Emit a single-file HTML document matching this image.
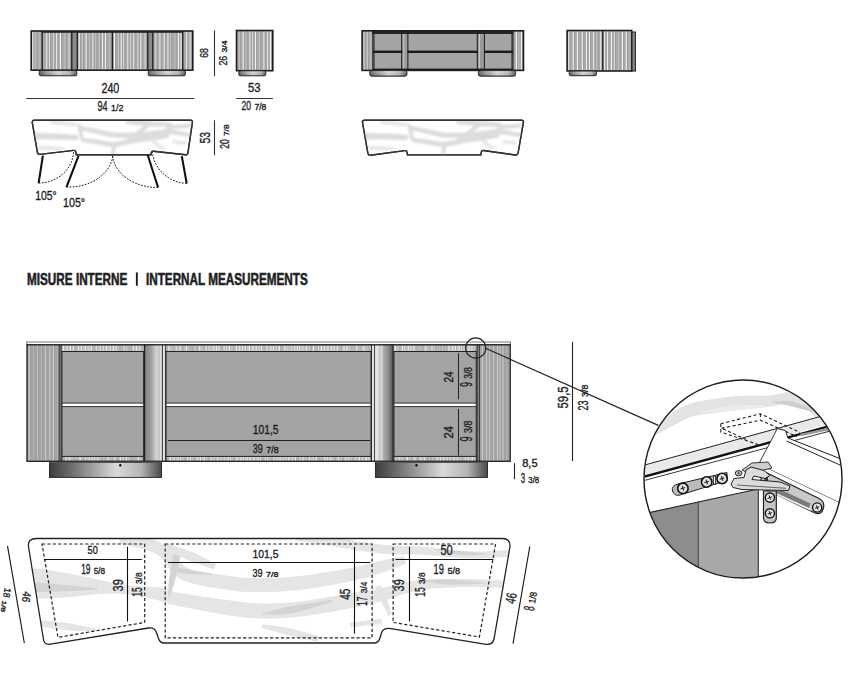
<!DOCTYPE html><html><head><meta charset="utf-8"><style>html,body{margin:0;padding:0;background:#fff;}svg{display:block;}text{font-family:"Liberation Sans",sans-serif;fill:#1e1e1e;stroke:#1e1e1e;stroke-width:0.35px;}</style></head><body>
<svg width="857" height="699" viewBox="0 0 857 699">
<defs>
<linearGradient id="footS" x1="0" y1="0" x2="1" y2="0">
 <stop offset="0" stop-color="#5a5a5a"/><stop offset="0.15" stop-color="#8c8c8c"/><stop offset="0.5" stop-color="#d8d8d8"/><stop offset="0.8" stop-color="#bababa"/><stop offset="1" stop-color="#5e5e5e"/>
</linearGradient>
<linearGradient id="footV" x1="0" y1="0" x2="0" y2="1">
 <stop offset="0" stop-color="#000" stop-opacity="0.1"/><stop offset="0.3" stop-color="#fff" stop-opacity="0.15"/><stop offset="0.7" stop-color="#000" stop-opacity="0"/><stop offset="1" stop-color="#000" stop-opacity="0.35"/>
</linearGradient>
<linearGradient id="footB" x1="0" y1="0" x2="1" y2="0">
 <stop offset="0" stop-color="#3c3c3c"/><stop offset="0.25" stop-color="#7c7c7c"/><stop offset="0.6" stop-color="#dadada"/><stop offset="0.82" stop-color="#b4b4b4"/><stop offset="1" stop-color="#484848"/>
</linearGradient>
<linearGradient id="post" x1="0" y1="0" x2="1" y2="0">
 <stop offset="0" stop-color="#5a5a5a"/><stop offset="0.12" stop-color="#8a8a8a"/><stop offset="0.35" stop-color="#9c9c9c"/><stop offset="0.55" stop-color="#c0c0c0"/><stop offset="0.7" stop-color="#d8d8d8"/><stop offset="0.8" stop-color="#bcbcbc"/><stop offset="0.9" stop-color="#e6e6e6"/><stop offset="1" stop-color="#cfcfcf"/>
</linearGradient>
<linearGradient id="postM" x1="1" y1="0" x2="0" y2="0">
 <stop offset="0" stop-color="#4a4a4a"/><stop offset="0.15" stop-color="#777"/><stop offset="0.35" stop-color="#9c9c9c"/><stop offset="0.5" stop-color="#a8a8a8"/><stop offset="0.6" stop-color="#dadada"/><stop offset="0.72" stop-color="#c4c4c4"/><stop offset="0.85" stop-color="#eaeaea"/><stop offset="1" stop-color="#d6d6d6"/>
</linearGradient>
<filter id="blur1" x="-10%" y="-10%" width="120%" height="120%"><feGaussianBlur stdDeviation="1.2"/></filter>
<filter id="blur3" x="-10%" y="-30%" width="120%" height="160%"><feGaussianBlur stdDeviation="0.9"/></filter>
<filter id="blur2" x="-10%" y="-10%" width="120%" height="120%"><feGaussianBlur stdDeviation="0.6"/></filter>
<clipPath id="circClip"><circle cx="743" cy="479" r="98.5"/></clipPath>
</defs>
<rect x="31" y="31" width="162" height="39.5" fill="#999"/>
<rect x="31.5" y="32" width="10.5" height="38" fill="#a9a9a9"/>
<rect x="32.40" y="32" width="1.1" height="38" fill="#f6f6f6"/>
<rect x="33.50" y="32" width="0.8" height="38" fill="#8c8c8c" opacity="0.6"/>
<rect x="35.39" y="32" width="1.1" height="38" fill="#c8c8c8"/>
<rect x="36.49" y="32" width="0.8" height="38" fill="#8c8c8c" opacity="0.6"/>
<rect x="39.44" y="32" width="1.1" height="38" fill="#c8c8c8"/>
<rect x="40.54" y="32" width="0.8" height="38" fill="#8c8c8c" opacity="0.6"/>
<rect x="43" y="32.5" width="28.5" height="37.5" fill="#a9a9a9"/>
<rect x="46.37" y="32.5" width="1.1" height="37.5" fill="#f6f6f6"/>
<rect x="47.47" y="32.5" width="0.8" height="37.5" fill="#8c8c8c" opacity="0.6"/>
<rect x="49.01" y="32.5" width="1.1" height="37.5" fill="#e2e2e2"/>
<rect x="50.11" y="32.5" width="0.8" height="37.5" fill="#8c8c8c" opacity="0.6"/>
<rect x="53.21" y="32.5" width="1.1" height="37.5" fill="#e2e2e2"/>
<rect x="54.31" y="32.5" width="0.8" height="37.5" fill="#8c8c8c" opacity="0.6"/>
<rect x="56.19" y="32.5" width="1.1" height="37.5" fill="#f6f6f6"/>
<rect x="57.29" y="32.5" width="0.8" height="37.5" fill="#8c8c8c" opacity="0.6"/>
<rect x="59.92" y="32.5" width="1.1" height="37.5" fill="#f6f6f6"/>
<rect x="61.02" y="32.5" width="0.8" height="37.5" fill="#8c8c8c" opacity="0.6"/>
<rect x="64.47" y="32.5" width="1.1" height="37.5" fill="#c8c8c8"/>
<rect x="65.57" y="32.5" width="0.8" height="37.5" fill="#8c8c8c" opacity="0.6"/>
<rect x="68.60" y="32.5" width="1.1" height="37.5" fill="#e2e2e2"/>
<rect x="69.70" y="32.5" width="0.8" height="37.5" fill="#8c8c8c" opacity="0.6"/>
<rect x="71.5" y="32" width="5.5" height="38" fill="#8a8a8a"/>
<rect x="77.5" y="33" width="34.5" height="37" fill="#a9a9a9"/>
<rect x="78.71" y="33" width="1.1" height="37" fill="#f6f6f6"/>
<rect x="79.81" y="33" width="0.8" height="37" fill="#8c8c8c" opacity="0.6"/>
<rect x="81.94" y="33" width="1.1" height="37" fill="#c8c8c8"/>
<rect x="83.04" y="33" width="0.8" height="37" fill="#8c8c8c" opacity="0.6"/>
<rect x="85.70" y="33" width="1.1" height="37" fill="#f6f6f6"/>
<rect x="86.80" y="33" width="0.8" height="37" fill="#8c8c8c" opacity="0.6"/>
<rect x="89.43" y="33" width="1.1" height="37" fill="#c8c8c8"/>
<rect x="90.53" y="33" width="0.8" height="37" fill="#8c8c8c" opacity="0.6"/>
<rect x="92.42" y="33" width="1.1" height="37" fill="#f6f6f6"/>
<rect x="93.52" y="33" width="0.8" height="37" fill="#8c8c8c" opacity="0.6"/>
<rect x="95.27" y="33" width="1.1" height="37" fill="#c8c8c8"/>
<rect x="96.37" y="33" width="0.8" height="37" fill="#8c8c8c" opacity="0.6"/>
<rect x="98.86" y="33" width="1.1" height="37" fill="#c8c8c8"/>
<rect x="99.96" y="33" width="0.8" height="37" fill="#8c8c8c" opacity="0.6"/>
<rect x="102.14" y="33" width="1.1" height="37" fill="#f6f6f6"/>
<rect x="103.24" y="33" width="0.8" height="37" fill="#8c8c8c" opacity="0.6"/>
<rect x="105.08" y="33" width="1.1" height="37" fill="#f6f6f6"/>
<rect x="106.18" y="33" width="0.8" height="37" fill="#8c8c8c" opacity="0.6"/>
<rect x="109.35" y="33" width="1.1" height="37" fill="#c8c8c8"/>
<rect x="110.45" y="33" width="0.8" height="37" fill="#8c8c8c" opacity="0.6"/>
<rect x="112.8" y="33" width="34.7" height="37" fill="#a9a9a9"/>
<rect x="114.01" y="33" width="1.1" height="37" fill="#f6f6f6"/>
<rect x="115.11" y="33" width="0.8" height="37" fill="#8c8c8c" opacity="0.6"/>
<rect x="117.97" y="33" width="1.1" height="37" fill="#c8c8c8"/>
<rect x="119.07" y="33" width="0.8" height="37" fill="#8c8c8c" opacity="0.6"/>
<rect x="120.75" y="33" width="1.1" height="37" fill="#f6f6f6"/>
<rect x="121.85" y="33" width="0.8" height="37" fill="#8c8c8c" opacity="0.6"/>
<rect x="123.24" y="33" width="1.1" height="37" fill="#e2e2e2"/>
<rect x="124.34" y="33" width="0.8" height="37" fill="#8c8c8c" opacity="0.6"/>
<rect x="127.37" y="33" width="1.1" height="37" fill="#f6f6f6"/>
<rect x="128.47" y="33" width="0.8" height="37" fill="#8c8c8c" opacity="0.6"/>
<rect x="130.29" y="33" width="1.1" height="37" fill="#e2e2e2"/>
<rect x="131.39" y="33" width="0.8" height="37" fill="#8c8c8c" opacity="0.6"/>
<rect x="133.32" y="33" width="1.1" height="37" fill="#f6f6f6"/>
<rect x="134.42" y="33" width="0.8" height="37" fill="#8c8c8c" opacity="0.6"/>
<rect x="137.50" y="33" width="1.1" height="37" fill="#e2e2e2"/>
<rect x="138.60" y="33" width="0.8" height="37" fill="#8c8c8c" opacity="0.6"/>
<rect x="140.40" y="33" width="1.1" height="37" fill="#f6f6f6"/>
<rect x="141.50" y="33" width="0.8" height="37" fill="#8c8c8c" opacity="0.6"/>
<rect x="144.60" y="33" width="1.1" height="37" fill="#e2e2e2"/>
<rect x="145.70" y="33" width="0.8" height="37" fill="#8c8c8c" opacity="0.6"/>
<rect x="148" y="32" width="5" height="38" fill="#8a8a8a"/>
<rect x="153" y="32.5" width="29.5" height="37.5" fill="#a9a9a9"/>
<rect x="155.37" y="32.5" width="1.1" height="37.5" fill="#e2e2e2"/>
<rect x="156.47" y="32.5" width="0.8" height="37.5" fill="#8c8c8c" opacity="0.6"/>
<rect x="159.49" y="32.5" width="1.1" height="37.5" fill="#f6f6f6"/>
<rect x="160.59" y="32.5" width="0.8" height="37.5" fill="#8c8c8c" opacity="0.6"/>
<rect x="163.70" y="32.5" width="1.1" height="37.5" fill="#f6f6f6"/>
<rect x="164.80" y="32.5" width="0.8" height="37.5" fill="#8c8c8c" opacity="0.6"/>
<rect x="167.52" y="32.5" width="1.1" height="37.5" fill="#f6f6f6"/>
<rect x="168.62" y="32.5" width="0.8" height="37.5" fill="#8c8c8c" opacity="0.6"/>
<rect x="170.20" y="32.5" width="1.1" height="37.5" fill="#c8c8c8"/>
<rect x="171.30" y="32.5" width="0.8" height="37.5" fill="#8c8c8c" opacity="0.6"/>
<rect x="174.48" y="32.5" width="1.1" height="37.5" fill="#c8c8c8"/>
<rect x="175.58" y="32.5" width="0.8" height="37.5" fill="#8c8c8c" opacity="0.6"/>
<rect x="178.07" y="32.5" width="1.1" height="37.5" fill="#f6f6f6"/>
<rect x="179.17" y="32.5" width="0.8" height="37.5" fill="#8c8c8c" opacity="0.6"/>
<rect x="180.55" y="32.5" width="1.1" height="37.5" fill="#f6f6f6"/>
<rect x="181.65" y="32.5" width="0.8" height="37.5" fill="#8c8c8c" opacity="0.6"/>
<rect x="183.3" y="32" width="9.199999999999989" height="38" fill="#a9a9a9"/>
<rect x="186.18" y="32" width="1.1" height="38" fill="#f6f6f6"/>
<rect x="187.28" y="32" width="0.8" height="38" fill="#8c8c8c" opacity="0.6"/>
<rect x="189.65" y="32" width="1.1" height="38" fill="#e2e2e2"/>
<rect x="190.75" y="32" width="0.8" height="38" fill="#8c8c8c" opacity="0.6"/>
<line x1="42.2" y1="31" x2="42.2" y2="70" stroke="#1e1e1e" stroke-width="1.3"/>
<line x1="71.8" y1="31" x2="71.8" y2="70" stroke="#1e1e1e" stroke-width="1.3"/>
<line x1="77.3" y1="31" x2="77.3" y2="70" stroke="#1e1e1e" stroke-width="1.3"/>
<line x1="112.4" y1="31" x2="112.4" y2="70" stroke="#1e1e1e" stroke-width="1.3"/>
<line x1="147.8" y1="31" x2="147.8" y2="70" stroke="#1e1e1e" stroke-width="1.3"/>
<line x1="152.8" y1="31" x2="152.8" y2="70" stroke="#1e1e1e" stroke-width="1.3"/>
<line x1="182.8" y1="31" x2="182.8" y2="70" stroke="#1e1e1e" stroke-width="1.3"/>
<rect x="31.2" y="31" width="161.6" height="39.2" fill="none" stroke="#1e1e1e" stroke-width="1.6"/>
<line x1="42" y1="32" x2="183" y2="32" stroke="#1e1e1e" stroke-width="1.5"/>
<rect x="39.2" y="70.4" width="37.599999999999994" height="5.4" rx="1.5" fill="url(#footS)"/>
<rect x="39.2" y="70.4" width="37.599999999999994" height="5.4" rx="1.5" fill="url(#footV)" stroke="#222" stroke-width="0.9"/>
<rect x="148.2" y="70.4" width="37.20000000000002" height="5.4" rx="1.5" fill="url(#footS)"/>
<rect x="148.2" y="70.4" width="37.20000000000002" height="5.4" rx="1.5" fill="url(#footV)" stroke="#222" stroke-width="0.9"/>
<line x1="26.3" y1="98.5" x2="194.4" y2="98.5" stroke="#333" stroke-width="1.2"/>
<line x1="214.5" y1="30.2" x2="214.5" y2="76.2" stroke="#333" stroke-width="1.1"/>
<rect x="236.5" y="30.5" width="36.3" height="40.2" fill="#aaa"/>
<rect x="237.3" y="31.3" width="34.69999999999999" height="38.7" fill="#a9a9a9"/>
<rect x="239.20" y="31.3" width="1.1" height="38.7" fill="#c8c8c8"/>
<rect x="240.30" y="31.3" width="0.8" height="38.7" fill="#8c8c8c" opacity="0.6"/>
<rect x="242.70" y="31.3" width="1.1" height="38.7" fill="#f6f6f6"/>
<rect x="243.80" y="31.3" width="0.8" height="38.7" fill="#8c8c8c" opacity="0.6"/>
<rect x="245.62" y="31.3" width="1.1" height="38.7" fill="#c8c8c8"/>
<rect x="246.72" y="31.3" width="0.8" height="38.7" fill="#8c8c8c" opacity="0.6"/>
<rect x="249.50" y="31.3" width="1.1" height="38.7" fill="#f6f6f6"/>
<rect x="250.60" y="31.3" width="0.8" height="38.7" fill="#8c8c8c" opacity="0.6"/>
<rect x="252.22" y="31.3" width="1.1" height="38.7" fill="#e2e2e2"/>
<rect x="253.32" y="31.3" width="0.8" height="38.7" fill="#8c8c8c" opacity="0.6"/>
<rect x="255.05" y="31.3" width="1.1" height="38.7" fill="#f6f6f6"/>
<rect x="256.15" y="31.3" width="0.8" height="38.7" fill="#8c8c8c" opacity="0.6"/>
<rect x="258.85" y="31.3" width="1.1" height="38.7" fill="#c8c8c8"/>
<rect x="259.95" y="31.3" width="0.8" height="38.7" fill="#8c8c8c" opacity="0.6"/>
<rect x="263.46" y="31.3" width="1.1" height="38.7" fill="#f6f6f6"/>
<rect x="264.56" y="31.3" width="0.8" height="38.7" fill="#8c8c8c" opacity="0.6"/>
<rect x="267.32" y="31.3" width="1.1" height="38.7" fill="#f6f6f6"/>
<rect x="268.42" y="31.3" width="0.8" height="38.7" fill="#8c8c8c" opacity="0.6"/>
<rect x="269.97" y="31.3" width="1.1" height="38.7" fill="#f6f6f6"/>
<rect x="271.07" y="31.3" width="0.8" height="38.7" fill="#8c8c8c" opacity="0.6"/>
<rect x="236.5" y="30.5" width="36.3" height="40.2" fill="none" stroke="#1e1e1e" stroke-width="1.6"/>
<rect x="238.8" y="70.7" width="27" height="5.1" rx="1.5" fill="url(#footS)"/>
<rect x="238.8" y="70.7" width="27" height="5.1" rx="1.5" fill="url(#footV)" stroke="#222" stroke-width="0.9"/>
<line x1="236.2" y1="98.5" x2="272.9" y2="98.5" stroke="#333" stroke-width="1.2"/>
<path d="M34.2,120.3 L190.6,120.3 Q192.8,120.3 192.4,122.5 L187.9,152.8 Q187.5,155.2 185.4,154.8 L153.5,151.3 Q151.5,151.1 151.2,153 L150.9,154.8 L76.2,154.8 L75.9,152.2 Q75.6,150.2 73.6,150.4 L40,154.4 Q37.7,154.6 37.4,152.4 L32.3,122.6 Q32,120.3 34.2,120.3 Z" fill="#fff" stroke="#333" stroke-width="1.4" />
<clipPath id="p1clip"><path d="M34.2,120.3 L190.6,120.3 Q192.8,120.3 192.4,122.5 L187.9,152.8 Q187.5,155.2 185.4,154.8 L153.5,151.3 Q151.5,151.1 151.2,153 L150.9,154.8 L76.2,154.8 L75.9,152.2 Q75.6,150.2 73.6,150.4 L40,154.4 Q37.7,154.6 37.4,152.4 L32.3,122.6 Q32,120.3 34.2,120.3 Z"/></clipPath>
<g clip-path="url(#p1clip)"><g transform="translate(0,0)" filter="url(#blur3)">
<path d="M32.9,139.5 L34.3,139.5 L36.1,139.4 L38.2,139.4 L40.5,139.4 L43.0,139.3 L45.4,139.3 L47.8,139.3 L49.9,139.3 L51.9,139.3 L53.8,139.4 L55.7,139.5 L57.6,139.6 L59.5,139.7 L61.3,139.8 L63.1,139.9 L64.9,140.0 L66.7,140.0 L68.6,140.1 L70.5,140.1 L72.3,140.1 L74.0,140.1 L75.6,140.1 L76.9,140.1 L77.9,140.1 L78.1,135.1 L77.1,135.0 L75.8,134.9 L74.3,134.8 L72.6,134.6 L70.7,134.4 L68.8,134.3 L66.9,134.1 L65.1,134.0 L63.4,133.9 L61.6,133.8 L59.8,133.7 L57.9,133.6 L56.0,133.6 L54.1,133.5 L52.1,133.4 L50.1,133.3 L47.9,133.2 L45.6,133.1 L43.1,133.0 L40.6,132.9 L38.3,132.7 L36.1,132.6 L34.4,132.6 L33.1,132.5Z" fill="#dcdcdc" />
<path d="M49.9,124.0 L51.1,124.1 L52.6,124.3 L54.5,124.5 L56.6,124.7 L58.7,124.9 L60.9,125.1 L63.0,125.3 L64.8,125.5 L66.6,125.6 L68.5,125.8 L70.4,125.9 L72.2,126.1 L74.0,126.2 L75.5,126.3 L76.8,126.4 L77.8,126.5 L78.2,123.5 L77.2,123.3 L75.9,123.1 L74.4,122.8 L72.7,122.5 L70.8,122.2 L68.9,122.0 L67.0,121.7 L65.2,121.5 L63.3,121.4 L61.2,121.3 L59.0,121.2 L56.8,121.1 L54.7,121.1 L52.8,121.1 L51.3,121.0 L50.1,121.0Z" fill="#e6e6e6" />
<path d="M77.5,124.3 L77.6,124.7 L77.6,125.2 L77.7,125.8 L77.7,126.5 L77.8,127.3 L77.9,128.0 L77.9,128.7 L78.0,129.4 L78.1,130.0 L78.2,130.6 L78.4,131.2 L78.5,131.9 L78.6,132.5 L78.7,133.1 L78.9,133.7 L79.0,134.4 L79.2,135.1 L79.4,135.9 L79.6,136.7 L79.8,137.6 L80.0,138.4 L80.2,139.2 L80.4,139.8 L80.5,140.2 L83.5,139.8 L83.4,139.3 L83.4,138.6 L83.3,137.9 L83.3,137.0 L83.2,136.1 L83.1,135.3 L83.1,134.4 L83.0,133.6 L82.9,132.9 L82.8,132.3 L82.6,131.6 L82.5,131.0 L82.4,130.4 L82.3,129.8 L82.1,129.2 L82.0,128.6 L81.8,128.0 L81.6,127.3 L81.4,126.5 L81.2,125.8 L80.9,125.2 L80.8,124.6 L80.6,124.1 L80.5,123.7Z" fill="#dcdcdc" />
<path d="M79.6,130.0 L80.9,130.3 L82.7,130.7 L84.8,131.2 L87.1,131.7 L89.6,132.3 L92.0,132.8 L94.4,133.4 L96.5,133.8 L98.4,134.3 L100.2,134.8 L102.0,135.3 L103.8,135.7 L105.7,136.2 L107.6,136.6 L109.6,137.0 L111.7,137.3 L113.9,137.5 L116.3,137.7 L118.7,137.8 L121.1,137.8 L123.5,137.8 L125.9,137.8 L128.0,137.8 L130.0,137.8 L131.8,137.8 L133.4,137.7 L134.8,137.7 L136.2,137.6 L137.5,137.5 L138.9,137.4 L140.5,137.3 L142.2,137.1 L144.3,136.9 L146.6,136.6 L149.0,136.3 L151.5,136.0 L154.0,135.7 L156.3,135.4 L158.4,135.2 L160.3,135.0 L161.8,134.8 L163.1,134.6 L164.1,134.4 L164.8,134.3 L165.5,134.2 L166.3,134.1 L167.4,134.1 L168.8,134.2 L170.7,134.3 L173.0,134.6 L175.6,134.9 L178.3,135.3 L181.0,135.7 L183.6,136.1 L185.9,136.4 L187.7,136.6 L189.2,136.7 L190.4,136.7 L191.4,136.7 L192.1,136.7 L192.8,136.6 L193.2,136.6 L193.6,136.5 L193.9,136.5 L194.1,133.5 L193.7,133.4 L193.2,133.4 L192.8,133.3 L192.2,133.3 L191.6,133.2 L190.7,133.0 L189.6,132.9 L188.3,132.6 L186.5,132.3 L184.3,131.9 L181.8,131.4 L179.1,130.8 L176.3,130.3 L173.7,129.8 L171.3,129.5 L169.2,129.2 L167.5,129.1 L166.2,129.1 L165.0,129.1 L164.0,129.3 L163.1,129.5 L162.2,129.6 L161.1,129.8 L159.7,130.0 L157.9,130.2 L155.7,130.5 L153.3,130.8 L150.9,131.1 L148.4,131.4 L146.0,131.7 L143.8,131.9 L141.8,132.1 L140.0,132.3 L138.5,132.4 L137.1,132.5 L135.8,132.6 L134.6,132.7 L133.2,132.7 L131.7,132.8 L130.0,132.8 L128.0,132.8 L125.8,132.8 L123.6,132.8 L121.2,132.8 L118.9,132.8 L116.6,132.7 L114.3,132.5 L112.3,132.3 L110.4,132.0 L108.6,131.7 L106.8,131.3 L105.1,130.8 L103.3,130.4 L101.5,129.9 L99.5,129.4 L97.5,129.0 L95.4,128.5 L93.0,128.1 L90.5,127.7 L88.0,127.3 L85.6,126.9 L83.5,126.5 L81.7,126.3 L80.4,126.0Z" fill="#dcdcdc" />
<path d="M81.7,142.0 L82.9,142.2 L84.4,142.4 L86.2,142.7 L88.3,143.1 L90.4,143.4 L92.6,143.8 L94.7,144.1 L96.6,144.5 L98.5,144.8 L100.5,145.2 L102.5,145.5 L104.5,145.9 L106.4,146.3 L108.4,146.6 L110.2,146.8 L111.8,147.0 L113.2,147.1 L114.5,147.0 L115.5,147.0 L116.5,146.8 L117.4,146.6 L118.3,146.4 L119.2,146.2 L120.5,146.0 L122.0,145.7 L123.6,145.3 L125.4,144.9 L127.3,144.5 L129.2,144.1 L131.1,143.7 L133.0,143.3 L134.9,143.0 L136.9,142.6 L138.8,142.3 L140.8,142.1 L142.9,141.8 L145.0,141.5 L147.1,141.2 L149.2,140.9 L151.3,140.6 L153.6,140.2 L156.1,139.8 L158.8,139.4 L161.3,138.9 L163.8,138.5 L166.0,138.1 L167.9,137.8 L169.3,137.6 L168.7,133.6 L167.3,133.8 L165.4,134.0 L163.2,134.2 L160.7,134.5 L158.1,134.8 L155.5,135.0 L153.0,135.3 L150.7,135.6 L148.5,135.9 L146.4,136.2 L144.3,136.5 L142.2,136.8 L140.1,137.1 L138.1,137.4 L136.1,137.7 L134.1,138.0 L132.1,138.4 L130.1,138.8 L128.1,139.2 L126.2,139.6 L124.3,140.1 L122.6,140.4 L121.0,140.8 L119.5,141.0 L118.2,141.3 L117.2,141.5 L116.3,141.7 L115.6,141.9 L114.9,142.0 L114.2,142.0 L113.3,142.1 L112.2,142.0 L110.8,141.9 L109.1,141.6 L107.3,141.3 L105.4,140.9 L103.4,140.6 L101.4,140.2 L99.3,139.8 L97.4,139.5 L95.4,139.3 L93.2,139.0 L91.0,138.8 L88.9,138.6 L86.8,138.4 L85.0,138.3 L83.4,138.1 L82.3,138.0Z" fill="#dcdcdc" />
<path d="M113.1,144.6 L112.9,144.9 L112.8,145.2 L112.6,145.6 L112.3,146.1 L112.1,146.6 L111.9,147.3 L111.7,148.0 L111.5,148.7 L111.4,149.6 L111.4,150.5 L111.4,151.6 L111.4,152.6 L111.4,153.7 L111.5,154.6 L111.5,155.3 L111.5,155.9 L114.5,156.1 L114.6,155.5 L114.7,154.8 L114.8,153.9 L115.0,152.9 L115.1,151.8 L115.3,150.9 L115.4,150.0 L115.5,149.3 L115.6,148.7 L115.6,148.1 L115.7,147.6 L115.7,147.1 L115.8,146.6 L115.8,146.1 L115.9,145.7 L115.9,145.4Z" fill="#dcdcdc" />
<path d="M128.3,140.3 L129.2,139.9 L130.3,139.4 L131.6,138.7 L133.1,138.0 L134.6,137.2 L136.2,136.4 L137.7,135.5 L139.1,134.7 L140.4,133.8 L141.7,132.8 L143.0,131.8 L144.3,130.8 L145.5,129.9 L146.6,128.9 L147.6,128.1 L148.5,127.4 L149.3,126.8 L150.0,126.2 L150.7,125.7 L151.3,125.2 L151.8,124.7 L152.3,124.4 L152.7,124.0 L153.0,123.8 L151.4,121.2 L151.0,121.4 L150.6,121.7 L150.0,121.9 L149.4,122.2 L148.7,122.6 L147.9,123.1 L147.0,123.6 L146.1,124.2 L145.1,124.9 L144.0,125.8 L142.9,126.7 L141.7,127.6 L140.5,128.6 L139.3,129.6 L138.1,130.5 L136.9,131.3 L135.6,132.2 L134.3,133.1 L132.8,134.0 L131.4,134.9 L130.0,135.8 L128.7,136.5 L127.7,137.2 L126.9,137.7Z" fill="#dcdcdc" />
<path d="M126.0,124.0 L127.0,124.1 L128.5,124.3 L130.3,124.5 L132.2,124.7 L134.2,124.9 L136.2,125.1 L138.1,125.3 L139.9,125.5 L141.4,125.6 L142.8,125.8 L144.2,125.9 L145.6,126.0 L147.0,126.1 L148.5,126.2 L150.1,126.3 L151.9,126.4 L153.8,126.5 L156.0,126.5 L158.4,126.5 L160.7,126.5 L163.0,126.6 L165.2,126.6 L167.0,126.7 L168.5,126.8 L169.4,126.9 L169.7,127.0 L169.8,127.1 L169.9,127.3 L170.5,127.8 L171.4,128.4 L172.6,128.7 L174.0,128.8 L175.8,128.8 L178.0,128.6 L180.6,128.4 L183.2,128.2 L185.8,127.9 L188.2,127.6 L190.2,127.4 L191.6,127.3 L191.2,123.3 L189.8,123.5 L187.8,123.7 L185.4,123.9 L182.8,124.2 L180.2,124.4 L177.8,124.6 L175.6,124.8 L174.0,124.8 L173.1,124.7 L172.8,124.7 L172.9,124.7 L172.8,124.6 L172.4,124.1 L171.5,123.6 L170.4,123.1 L169.1,122.8 L167.4,122.6 L165.4,122.4 L163.2,122.2 L160.9,122.0 L158.5,121.9 L156.2,121.7 L154.1,121.5 L152.1,121.4 L150.5,121.3 L148.9,121.1 L147.5,121.0 L146.0,120.8 L144.6,120.7 L143.2,120.6 L141.7,120.5 L140.1,120.5 L138.4,120.5 L136.4,120.5 L134.4,120.6 L132.3,120.7 L130.4,120.8 L128.6,120.9 L127.1,121.0 L126.0,121.0Z" fill="#dcdcdc" />
<path d="M163.8,123.8 L164.0,124.1 L164.3,124.6 L164.6,125.1 L164.9,125.7 L165.3,126.3 L165.6,127.0 L166.0,127.6 L166.3,128.1 L166.7,128.6 L167.1,129.2 L167.6,129.9 L168.0,130.5 L168.5,131.1 L168.9,131.6 L169.2,132.1 L169.5,132.5 L172.1,130.9 L171.9,130.6 L171.7,130.0 L171.4,129.4 L171.1,128.7 L170.8,128.0 L170.4,127.2 L170.1,126.5 L169.7,125.9 L169.2,125.3 L168.8,124.7 L168.3,124.1 L167.8,123.6 L167.3,123.1 L166.8,122.6 L166.5,122.3 L166.2,122.0Z" fill="#dcdcdc" />
<path d="M150.9,140.5 L151.4,141.1 L152.1,142.0 L152.9,143.0 L153.8,144.1 L154.8,145.2 L155.8,146.3 L156.9,147.2 L157.9,148.1 L158.9,148.7 L160.0,149.1 L161.0,149.4 L162.0,149.6 L162.9,149.7 L163.6,149.7 L164.2,149.8 L164.6,149.8 L165.4,147.0 L164.9,146.8 L164.3,146.6 L163.6,146.4 L162.9,146.1 L162.1,145.8 L161.4,145.5 L160.8,145.1 L160.1,144.7 L159.4,144.2 L158.5,143.4 L157.5,142.6 L156.4,141.6 L155.4,140.6 L154.5,139.8 L153.7,139.0 L153.1,138.5Z" fill="#e6e6e6" />
<path d="M37.9,149.6 L38.8,149.6 L40.0,149.7 L41.4,149.8 L43.0,149.9 L44.8,150.0 L46.5,150.1 L48.3,150.2 L49.9,150.2 L51.6,150.2 L53.5,150.2 L55.5,150.2 L57.5,150.2 L59.3,150.2 L61.0,150.1 L62.4,150.1 L63.5,150.1 L63.5,147.1 L62.5,147.0 L61.1,146.9 L59.4,146.8 L57.5,146.7 L55.6,146.6 L53.6,146.4 L51.8,146.3 L50.1,146.2 L48.4,146.1 L46.7,146.0 L45.0,145.9 L43.3,145.8 L41.7,145.8 L40.2,145.7 L39.0,145.6 L38.1,145.6Z" fill="#e6e6e6" />
<path d="M171.9,143.5 L173.1,143.6 L174.7,143.8 L176.7,144.0 L178.9,144.2 L181.0,144.5 L183.0,144.7 L184.7,144.9 L185.9,145.0 L186.1,141.0 L185.0,141.0 L183.3,140.9 L181.3,140.8 L179.1,140.8 L177.0,140.7 L175.0,140.6 L173.3,140.5 L172.1,140.5Z" fill="#e6e6e6" />
</g></g>
<path d="M34.2,120.3 L190.6,120.3 Q192.8,120.3 192.4,122.5 L187.9,152.8 Q187.5,155.2 185.4,154.8 L153.5,151.3 Q151.5,151.1 151.2,153 L150.9,154.8 L76.2,154.8 L75.9,152.2 Q75.6,150.2 73.6,150.4 L40,154.4 Q37.7,154.6 37.4,152.4 L32.3,122.6 Q32,120.3 34.2,120.3 Z" fill="#fff" stroke="#333" stroke-width="1.4" fill-opacity="0"/>
<line x1="42.9" y1="155.6" x2="38.6" y2="183.1" stroke="#111" stroke-width="2.1"/>
<line x1="78.6" y1="155.6" x2="66.5" y2="187.1" stroke="#111" stroke-width="2.1"/>
<line x1="147.8" y1="155.3" x2="158.1" y2="187.5" stroke="#111" stroke-width="2.1"/>
<line x1="181.8" y1="156.1" x2="186.7" y2="183.4" stroke="#111" stroke-width="2.1"/>
<path d="M38.6,183.1 C55,183 72,172 73.6,152" fill="none" stroke="#222" stroke-width="1" stroke-dasharray="1.8,1.3"/>
<path d="M66.5,187.1 C85,188 110,178 113,155" fill="none" stroke="#222" stroke-width="1" stroke-dasharray="1.8,1.3"/>
<path d="M158.1,187.5 C140,188 115,178 112.4,155" fill="none" stroke="#222" stroke-width="1" stroke-dasharray="1.8,1.3"/>
<path d="M186.7,183.4 C170,183 154,170 152.4,152" fill="none" stroke="#222" stroke-width="1" stroke-dasharray="1.8,1.3"/>
<line x1="214.5" y1="120.2" x2="214.5" y2="155.3" stroke="#333" stroke-width="1.1"/>
<rect x="362.1" y="30.8" width="161.4" height="39.6" fill="#a4a4a4"/>
<rect x="362.8" y="31.5" width="9.5" height="38.5" fill="#a9a9a9"/>
<rect x="363.71" y="31.5" width="1.1" height="38.5" fill="#c8c8c8"/>
<rect x="364.81" y="31.5" width="0.8" height="38.5" fill="#8c8c8c" opacity="0.6"/>
<rect x="366.96" y="31.5" width="1.1" height="38.5" fill="#c8c8c8"/>
<rect x="368.06" y="31.5" width="0.8" height="38.5" fill="#8c8c8c" opacity="0.6"/>
<rect x="370.57" y="31.5" width="1.1" height="38.5" fill="#c8c8c8"/>
<rect x="371.67" y="31.5" width="0.8" height="38.5" fill="#8c8c8c" opacity="0.6"/>
<rect x="513" y="31.5" width="10" height="38.5" fill="#a9a9a9"/>
<rect x="515.90" y="31.5" width="1.1" height="38.5" fill="#f6f6f6"/>
<rect x="517.00" y="31.5" width="0.8" height="38.5" fill="#8c8c8c" opacity="0.6"/>
<rect x="518.43" y="31.5" width="1.1" height="38.5" fill="#c8c8c8"/>
<rect x="519.53" y="31.5" width="0.8" height="38.5" fill="#8c8c8c" opacity="0.6"/>
<rect x="520.86" y="31.5" width="1.1" height="38.5" fill="#f6f6f6"/>
<rect x="521.96" y="31.5" width="0.8" height="38.5" fill="#8c8c8c" opacity="0.6"/>
<rect x="402.3" y="33" width="5.2" height="37" fill="#9a9a9a"/>
<rect x="477.6" y="33" width="6.5" height="37" fill="#9a9a9a"/>
<rect x="403.3" y="33" width="1" height="37" fill="#c8c8c8"/>
<rect x="479" y="33" width="1" height="37" fill="#c8c8c8"/>
<rect x="372.3" y="31" width="140.7" height="3" fill="#262626"/>
<rect x="373" y="50.6" width="29.3" height="2.4" fill="#1a1a1a"/>
<rect x="407.5" y="50.6" width="70.1" height="2.4" fill="#1a1a1a"/>
<rect x="484.1" y="50.6" width="28.9" height="2.4" fill="#1a1a1a"/>
<line x1="372.8" y1="31" x2="372.8" y2="70" stroke="#1a1a1a" stroke-width="1"/>
<line x1="374" y1="31" x2="374" y2="70" stroke="#1a1a1a" stroke-width="1"/>
<line x1="401.7" y1="31" x2="401.7" y2="70" stroke="#1a1a1a" stroke-width="1"/>
<line x1="407.9" y1="31" x2="407.9" y2="70" stroke="#1a1a1a" stroke-width="1"/>
<line x1="477.3" y1="31" x2="477.3" y2="70" stroke="#1a1a1a" stroke-width="1"/>
<line x1="484.4" y1="31" x2="484.4" y2="70" stroke="#1a1a1a" stroke-width="1"/>
<line x1="512" y1="31" x2="512" y2="70" stroke="#1a1a1a" stroke-width="1"/>
<line x1="513" y1="31" x2="513" y2="70" stroke="#1a1a1a" stroke-width="1"/>
<rect x="373" y="68.6" width="140" height="1.6" fill="#1a1a1a"/>
<rect x="362.1" y="30.8" width="161.4" height="39.6" fill="none" stroke="#1e1e1e" stroke-width="1.6"/>
<rect x="369.7" y="70.4" width="37.30000000000001" height="5.8" rx="2" fill="url(#footS)"/>
<rect x="369.7" y="70.4" width="37.30000000000001" height="5.8" rx="2" fill="url(#footV)" stroke="#222" stroke-width="0.9"/>
<rect x="478.3" y="70.4" width="37.30000000000001" height="5.8" rx="2" fill="url(#footS)"/>
<rect x="478.3" y="70.4" width="37.30000000000001" height="5.8" rx="2" fill="url(#footV)" stroke="#222" stroke-width="0.9"/>
<rect x="631" y="32" width="4.4" height="39" fill="#888" stroke="#1e1e1e" stroke-width="1"/>
<rect x="567.1" y="30.5" width="64.6" height="40.5" fill="#aaa"/>
<rect x="567.8" y="31.5" width="34.5" height="38.8" fill="#a9a9a9"/>
<rect x="568.34" y="31.5" width="1.1" height="38.8" fill="#f6f6f6"/>
<rect x="569.44" y="31.5" width="0.8" height="38.8" fill="#8c8c8c" opacity="0.6"/>
<rect x="572.74" y="31.5" width="1.1" height="38.8" fill="#f6f6f6"/>
<rect x="573.84" y="31.5" width="0.8" height="38.8" fill="#8c8c8c" opacity="0.6"/>
<rect x="576.96" y="31.5" width="1.1" height="38.8" fill="#f6f6f6"/>
<rect x="578.06" y="31.5" width="0.8" height="38.8" fill="#8c8c8c" opacity="0.6"/>
<rect x="581.79" y="31.5" width="1.1" height="38.8" fill="#f6f6f6"/>
<rect x="582.89" y="31.5" width="0.8" height="38.8" fill="#8c8c8c" opacity="0.6"/>
<rect x="586.07" y="31.5" width="1.1" height="38.8" fill="#f6f6f6"/>
<rect x="587.17" y="31.5" width="0.8" height="38.8" fill="#8c8c8c" opacity="0.6"/>
<rect x="589.07" y="31.5" width="1.1" height="38.8" fill="#f6f6f6"/>
<rect x="590.17" y="31.5" width="0.8" height="38.8" fill="#8c8c8c" opacity="0.6"/>
<rect x="593.24" y="31.5" width="1.1" height="38.8" fill="#f6f6f6"/>
<rect x="594.34" y="31.5" width="0.8" height="38.8" fill="#8c8c8c" opacity="0.6"/>
<rect x="596.42" y="31.5" width="1.1" height="38.8" fill="#c8c8c8"/>
<rect x="597.52" y="31.5" width="0.8" height="38.8" fill="#8c8c8c" opacity="0.6"/>
<rect x="600.28" y="31.5" width="1.1" height="38.8" fill="#f6f6f6"/>
<rect x="601.38" y="31.5" width="0.8" height="38.8" fill="#8c8c8c" opacity="0.6"/>
<rect x="603.4" y="31.5" width="27.600000000000023" height="38.8" fill="#a9a9a9"/>
<rect x="604.16" y="31.5" width="1.1" height="38.8" fill="#f6f6f6"/>
<rect x="605.26" y="31.5" width="0.8" height="38.8" fill="#8c8c8c" opacity="0.6"/>
<rect x="607.15" y="31.5" width="1.1" height="38.8" fill="#f6f6f6"/>
<rect x="608.25" y="31.5" width="0.8" height="38.8" fill="#8c8c8c" opacity="0.6"/>
<rect x="610.94" y="31.5" width="1.1" height="38.8" fill="#f6f6f6"/>
<rect x="612.04" y="31.5" width="0.8" height="38.8" fill="#8c8c8c" opacity="0.6"/>
<rect x="613.83" y="31.5" width="1.1" height="38.8" fill="#e2e2e2"/>
<rect x="614.93" y="31.5" width="0.8" height="38.8" fill="#8c8c8c" opacity="0.6"/>
<rect x="618.41" y="31.5" width="1.1" height="38.8" fill="#c8c8c8"/>
<rect x="619.51" y="31.5" width="0.8" height="38.8" fill="#8c8c8c" opacity="0.6"/>
<rect x="621.91" y="31.5" width="1.1" height="38.8" fill="#f6f6f6"/>
<rect x="623.01" y="31.5" width="0.8" height="38.8" fill="#8c8c8c" opacity="0.6"/>
<rect x="625.81" y="31.5" width="1.1" height="38.8" fill="#f6f6f6"/>
<rect x="626.91" y="31.5" width="0.8" height="38.8" fill="#8c8c8c" opacity="0.6"/>
<rect x="629.67" y="31.5" width="1.1" height="38.8" fill="#c8c8c8"/>
<line x1="602.8" y1="31" x2="602.8" y2="70.5" stroke="#1e1e1e" stroke-width="1.3"/>
<rect x="567.1" y="30.5" width="64.6" height="40.5" fill="none" stroke="#1e1e1e" stroke-width="1.6"/>
<rect x="569.2" y="71" width="27.3" height="4.7" rx="1.5" fill="url(#footS)"/>
<rect x="569.2" y="71" width="27.3" height="4.7" rx="1.5" fill="url(#footV)" stroke="#222" stroke-width="0.9"/>
<path d="M364.4,120.2 L521.5,120.2 Q523.8,120.2 523.4,122.4 L518.1,153 Q517.7,155.3 515.5,155 L483.5,150.5 Q481.6,150.2 481.3,152.2 L480.9,154.9 L407.5,154.9 L407.1,152.4 Q406.8,150.4 404.8,150.6 L370.4,155.2 Q368.3,155.4 367.9,153.3 L362.5,122.5 Q362.2,120.2 364.4,120.2 Z" fill="#fff" stroke="#333" stroke-width="1.4" />
<clipPath id="p2clip"><path d="M364.4,120.2 L521.5,120.2 Q523.8,120.2 523.4,122.4 L518.1,153 Q517.7,155.3 515.5,155 L483.5,150.5 Q481.6,150.2 481.3,152.2 L480.9,154.9 L407.5,154.9 L407.1,152.4 Q406.8,150.4 404.8,150.6 L370.4,155.2 Q368.3,155.4 367.9,153.3 L362.5,122.5 Q362.2,120.2 364.4,120.2 Z"/></clipPath>
<g clip-path="url(#p2clip)"><g transform="translate(330.2,0)" filter="url(#blur3)">
<path d="M32.9,139.5 L34.3,139.5 L36.1,139.4 L38.2,139.4 L40.5,139.4 L43.0,139.3 L45.4,139.3 L47.8,139.3 L49.9,139.3 L51.9,139.3 L53.8,139.4 L55.7,139.5 L57.6,139.6 L59.5,139.7 L61.3,139.8 L63.1,139.9 L64.9,140.0 L66.7,140.0 L68.6,140.1 L70.5,140.1 L72.3,140.1 L74.0,140.1 L75.6,140.1 L76.9,140.1 L77.9,140.1 L78.1,135.1 L77.1,135.0 L75.8,134.9 L74.3,134.8 L72.6,134.6 L70.7,134.4 L68.8,134.3 L66.9,134.1 L65.1,134.0 L63.4,133.9 L61.6,133.8 L59.8,133.7 L57.9,133.6 L56.0,133.6 L54.1,133.5 L52.1,133.4 L50.1,133.3 L47.9,133.2 L45.6,133.1 L43.1,133.0 L40.6,132.9 L38.3,132.7 L36.1,132.6 L34.4,132.6 L33.1,132.5Z" fill="#dcdcdc" />
<path d="M49.9,124.0 L51.1,124.1 L52.6,124.3 L54.5,124.5 L56.6,124.7 L58.7,124.9 L60.9,125.1 L63.0,125.3 L64.8,125.5 L66.6,125.6 L68.5,125.8 L70.4,125.9 L72.2,126.1 L74.0,126.2 L75.5,126.3 L76.8,126.4 L77.8,126.5 L78.2,123.5 L77.2,123.3 L75.9,123.1 L74.4,122.8 L72.7,122.5 L70.8,122.2 L68.9,122.0 L67.0,121.7 L65.2,121.5 L63.3,121.4 L61.2,121.3 L59.0,121.2 L56.8,121.1 L54.7,121.1 L52.8,121.1 L51.3,121.0 L50.1,121.0Z" fill="#e6e6e6" />
<path d="M77.5,124.3 L77.6,124.7 L77.6,125.2 L77.7,125.8 L77.7,126.5 L77.8,127.3 L77.9,128.0 L77.9,128.7 L78.0,129.4 L78.1,130.0 L78.2,130.6 L78.4,131.2 L78.5,131.9 L78.6,132.5 L78.7,133.1 L78.9,133.7 L79.0,134.4 L79.2,135.1 L79.4,135.9 L79.6,136.7 L79.8,137.6 L80.0,138.4 L80.2,139.2 L80.4,139.8 L80.5,140.2 L83.5,139.8 L83.4,139.3 L83.4,138.6 L83.3,137.9 L83.3,137.0 L83.2,136.1 L83.1,135.3 L83.1,134.4 L83.0,133.6 L82.9,132.9 L82.8,132.3 L82.6,131.6 L82.5,131.0 L82.4,130.4 L82.3,129.8 L82.1,129.2 L82.0,128.6 L81.8,128.0 L81.6,127.3 L81.4,126.5 L81.2,125.8 L80.9,125.2 L80.8,124.6 L80.6,124.1 L80.5,123.7Z" fill="#dcdcdc" />
<path d="M79.6,130.0 L80.9,130.3 L82.7,130.7 L84.8,131.2 L87.1,131.7 L89.6,132.3 L92.0,132.8 L94.4,133.4 L96.5,133.8 L98.4,134.3 L100.2,134.8 L102.0,135.3 L103.8,135.7 L105.7,136.2 L107.6,136.6 L109.6,137.0 L111.7,137.3 L113.9,137.5 L116.3,137.7 L118.7,137.8 L121.1,137.8 L123.5,137.8 L125.9,137.8 L128.0,137.8 L130.0,137.8 L131.8,137.8 L133.4,137.7 L134.8,137.7 L136.2,137.6 L137.5,137.5 L138.9,137.4 L140.5,137.3 L142.2,137.1 L144.3,136.9 L146.6,136.6 L149.0,136.3 L151.5,136.0 L154.0,135.7 L156.3,135.4 L158.4,135.2 L160.3,135.0 L161.8,134.8 L163.1,134.6 L164.1,134.4 L164.8,134.3 L165.5,134.2 L166.3,134.1 L167.4,134.1 L168.8,134.2 L170.7,134.3 L173.0,134.6 L175.6,134.9 L178.3,135.3 L181.0,135.7 L183.6,136.1 L185.9,136.4 L187.7,136.6 L189.2,136.7 L190.4,136.7 L191.4,136.7 L192.1,136.7 L192.8,136.6 L193.2,136.6 L193.6,136.5 L193.9,136.5 L194.1,133.5 L193.7,133.4 L193.2,133.4 L192.8,133.3 L192.2,133.3 L191.6,133.2 L190.7,133.0 L189.6,132.9 L188.3,132.6 L186.5,132.3 L184.3,131.9 L181.8,131.4 L179.1,130.8 L176.3,130.3 L173.7,129.8 L171.3,129.5 L169.2,129.2 L167.5,129.1 L166.2,129.1 L165.0,129.1 L164.0,129.3 L163.1,129.5 L162.2,129.6 L161.1,129.8 L159.7,130.0 L157.9,130.2 L155.7,130.5 L153.3,130.8 L150.9,131.1 L148.4,131.4 L146.0,131.7 L143.8,131.9 L141.8,132.1 L140.0,132.3 L138.5,132.4 L137.1,132.5 L135.8,132.6 L134.6,132.7 L133.2,132.7 L131.7,132.8 L130.0,132.8 L128.0,132.8 L125.8,132.8 L123.6,132.8 L121.2,132.8 L118.9,132.8 L116.6,132.7 L114.3,132.5 L112.3,132.3 L110.4,132.0 L108.6,131.7 L106.8,131.3 L105.1,130.8 L103.3,130.4 L101.5,129.9 L99.5,129.4 L97.5,129.0 L95.4,128.5 L93.0,128.1 L90.5,127.7 L88.0,127.3 L85.6,126.9 L83.5,126.5 L81.7,126.3 L80.4,126.0Z" fill="#dcdcdc" />
<path d="M81.7,142.0 L82.9,142.2 L84.4,142.4 L86.2,142.7 L88.3,143.1 L90.4,143.4 L92.6,143.8 L94.7,144.1 L96.6,144.5 L98.5,144.8 L100.5,145.2 L102.5,145.5 L104.5,145.9 L106.4,146.3 L108.4,146.6 L110.2,146.8 L111.8,147.0 L113.2,147.1 L114.5,147.0 L115.5,147.0 L116.5,146.8 L117.4,146.6 L118.3,146.4 L119.2,146.2 L120.5,146.0 L122.0,145.7 L123.6,145.3 L125.4,144.9 L127.3,144.5 L129.2,144.1 L131.1,143.7 L133.0,143.3 L134.9,143.0 L136.9,142.6 L138.8,142.3 L140.8,142.1 L142.9,141.8 L145.0,141.5 L147.1,141.2 L149.2,140.9 L151.3,140.6 L153.6,140.2 L156.1,139.8 L158.8,139.4 L161.3,138.9 L163.8,138.5 L166.0,138.1 L167.9,137.8 L169.3,137.6 L168.7,133.6 L167.3,133.8 L165.4,134.0 L163.2,134.2 L160.7,134.5 L158.1,134.8 L155.5,135.0 L153.0,135.3 L150.7,135.6 L148.5,135.9 L146.4,136.2 L144.3,136.5 L142.2,136.8 L140.1,137.1 L138.1,137.4 L136.1,137.7 L134.1,138.0 L132.1,138.4 L130.1,138.8 L128.1,139.2 L126.2,139.6 L124.3,140.1 L122.6,140.4 L121.0,140.8 L119.5,141.0 L118.2,141.3 L117.2,141.5 L116.3,141.7 L115.6,141.9 L114.9,142.0 L114.2,142.0 L113.3,142.1 L112.2,142.0 L110.8,141.9 L109.1,141.6 L107.3,141.3 L105.4,140.9 L103.4,140.6 L101.4,140.2 L99.3,139.8 L97.4,139.5 L95.4,139.3 L93.2,139.0 L91.0,138.8 L88.9,138.6 L86.8,138.4 L85.0,138.3 L83.4,138.1 L82.3,138.0Z" fill="#dcdcdc" />
<path d="M113.1,144.6 L112.9,144.9 L112.8,145.2 L112.6,145.6 L112.3,146.1 L112.1,146.6 L111.9,147.3 L111.7,148.0 L111.5,148.7 L111.4,149.6 L111.4,150.5 L111.4,151.6 L111.4,152.6 L111.4,153.7 L111.5,154.6 L111.5,155.3 L111.5,155.9 L114.5,156.1 L114.6,155.5 L114.7,154.8 L114.8,153.9 L115.0,152.9 L115.1,151.8 L115.3,150.9 L115.4,150.0 L115.5,149.3 L115.6,148.7 L115.6,148.1 L115.7,147.6 L115.7,147.1 L115.8,146.6 L115.8,146.1 L115.9,145.7 L115.9,145.4Z" fill="#dcdcdc" />
<path d="M128.3,140.3 L129.2,139.9 L130.3,139.4 L131.6,138.7 L133.1,138.0 L134.6,137.2 L136.2,136.4 L137.7,135.5 L139.1,134.7 L140.4,133.8 L141.7,132.8 L143.0,131.8 L144.3,130.8 L145.5,129.9 L146.6,128.9 L147.6,128.1 L148.5,127.4 L149.3,126.8 L150.0,126.2 L150.7,125.7 L151.3,125.2 L151.8,124.7 L152.3,124.4 L152.7,124.0 L153.0,123.8 L151.4,121.2 L151.0,121.4 L150.6,121.7 L150.0,121.9 L149.4,122.2 L148.7,122.6 L147.9,123.1 L147.0,123.6 L146.1,124.2 L145.1,124.9 L144.0,125.8 L142.9,126.7 L141.7,127.6 L140.5,128.6 L139.3,129.6 L138.1,130.5 L136.9,131.3 L135.6,132.2 L134.3,133.1 L132.8,134.0 L131.4,134.9 L130.0,135.8 L128.7,136.5 L127.7,137.2 L126.9,137.7Z" fill="#dcdcdc" />
<path d="M126.0,124.0 L127.0,124.1 L128.5,124.3 L130.3,124.5 L132.2,124.7 L134.2,124.9 L136.2,125.1 L138.1,125.3 L139.9,125.5 L141.4,125.6 L142.8,125.8 L144.2,125.9 L145.6,126.0 L147.0,126.1 L148.5,126.2 L150.1,126.3 L151.9,126.4 L153.8,126.5 L156.0,126.5 L158.4,126.5 L160.7,126.5 L163.0,126.6 L165.2,126.6 L167.0,126.7 L168.5,126.8 L169.4,126.9 L169.7,127.0 L169.8,127.1 L169.9,127.3 L170.5,127.8 L171.4,128.4 L172.6,128.7 L174.0,128.8 L175.8,128.8 L178.0,128.6 L180.6,128.4 L183.2,128.2 L185.8,127.9 L188.2,127.6 L190.2,127.4 L191.6,127.3 L191.2,123.3 L189.8,123.5 L187.8,123.7 L185.4,123.9 L182.8,124.2 L180.2,124.4 L177.8,124.6 L175.6,124.8 L174.0,124.8 L173.1,124.7 L172.8,124.7 L172.9,124.7 L172.8,124.6 L172.4,124.1 L171.5,123.6 L170.4,123.1 L169.1,122.8 L167.4,122.6 L165.4,122.4 L163.2,122.2 L160.9,122.0 L158.5,121.9 L156.2,121.7 L154.1,121.5 L152.1,121.4 L150.5,121.3 L148.9,121.1 L147.5,121.0 L146.0,120.8 L144.6,120.7 L143.2,120.6 L141.7,120.5 L140.1,120.5 L138.4,120.5 L136.4,120.5 L134.4,120.6 L132.3,120.7 L130.4,120.8 L128.6,120.9 L127.1,121.0 L126.0,121.0Z" fill="#dcdcdc" />
<path d="M163.8,123.8 L164.0,124.1 L164.3,124.6 L164.6,125.1 L164.9,125.7 L165.3,126.3 L165.6,127.0 L166.0,127.6 L166.3,128.1 L166.7,128.6 L167.1,129.2 L167.6,129.9 L168.0,130.5 L168.5,131.1 L168.9,131.6 L169.2,132.1 L169.5,132.5 L172.1,130.9 L171.9,130.6 L171.7,130.0 L171.4,129.4 L171.1,128.7 L170.8,128.0 L170.4,127.2 L170.1,126.5 L169.7,125.9 L169.2,125.3 L168.8,124.7 L168.3,124.1 L167.8,123.6 L167.3,123.1 L166.8,122.6 L166.5,122.3 L166.2,122.0Z" fill="#dcdcdc" />
<path d="M150.9,140.5 L151.4,141.1 L152.1,142.0 L152.9,143.0 L153.8,144.1 L154.8,145.2 L155.8,146.3 L156.9,147.2 L157.9,148.1 L158.9,148.7 L160.0,149.1 L161.0,149.4 L162.0,149.6 L162.9,149.7 L163.6,149.7 L164.2,149.8 L164.6,149.8 L165.4,147.0 L164.9,146.8 L164.3,146.6 L163.6,146.4 L162.9,146.1 L162.1,145.8 L161.4,145.5 L160.8,145.1 L160.1,144.7 L159.4,144.2 L158.5,143.4 L157.5,142.6 L156.4,141.6 L155.4,140.6 L154.5,139.8 L153.7,139.0 L153.1,138.5Z" fill="#e6e6e6" />
<path d="M37.9,149.6 L38.8,149.6 L40.0,149.7 L41.4,149.8 L43.0,149.9 L44.8,150.0 L46.5,150.1 L48.3,150.2 L49.9,150.2 L51.6,150.2 L53.5,150.2 L55.5,150.2 L57.5,150.2 L59.3,150.2 L61.0,150.1 L62.4,150.1 L63.5,150.1 L63.5,147.1 L62.5,147.0 L61.1,146.9 L59.4,146.8 L57.5,146.7 L55.6,146.6 L53.6,146.4 L51.8,146.3 L50.1,146.2 L48.4,146.1 L46.7,146.0 L45.0,145.9 L43.3,145.8 L41.7,145.8 L40.2,145.7 L39.0,145.6 L38.1,145.6Z" fill="#e6e6e6" />
<path d="M171.9,143.5 L173.1,143.6 L174.7,143.8 L176.7,144.0 L178.9,144.2 L181.0,144.5 L183.0,144.7 L184.7,144.9 L185.9,145.0 L186.1,141.0 L185.0,141.0 L183.3,140.9 L181.3,140.8 L179.1,140.8 L177.0,140.7 L175.0,140.6 L173.3,140.5 L172.1,140.5Z" fill="#e6e6e6" />
</g></g>
<path d="M364.4,120.2 L521.5,120.2 Q523.8,120.2 523.4,122.4 L518.1,153 Q517.7,155.3 515.5,155 L483.5,150.5 Q481.6,150.2 481.3,152.2 L480.9,154.9 L407.5,154.9 L407.1,152.4 Q406.8,150.4 404.8,150.6 L370.4,155.2 Q368.3,155.4 367.9,153.3 L362.5,122.5 Q362.2,120.2 364.4,120.2 Z" fill="#fff" stroke="#333" stroke-width="1.4" fill-opacity="0"/>
<text x="27" y="285" font-size="15.6" font-weight="bold" textLength="100.4" lengthAdjust="spacingAndGlyphs" style="stroke-width:0.55px">MISURE INTERNE</text>
<rect x="135.9" y="272.4" width="1.9" height="13.4" fill="#1e1e1e"/>
<text x="146" y="285" font-size="15.6" font-weight="bold" textLength="161.7" lengthAdjust="spacingAndGlyphs" style="stroke-width:0.55px">INTERNAL MEASUREMENTS</text>
<rect x="26.8" y="342" width="483.6" height="3" fill="#fff" stroke="#8a8a8a" stroke-width="1.2"/>
<rect x="27" y="344.6" width="31.799999999999997" height="116.39999999999998" fill="#a4a4a4"/>
<rect x="28.68" y="344.6" width="1.1" height="116.39999999999998" fill="#d0d0d0"/>
<rect x="29.78" y="344.6" width="0.8" height="116.39999999999998" fill="#949494" opacity="0.6"/>
<rect x="33.35" y="344.6" width="1.1" height="116.39999999999998" fill="#b6b6b6"/>
<rect x="34.45" y="344.6" width="0.8" height="116.39999999999998" fill="#949494" opacity="0.6"/>
<rect x="37.11" y="344.6" width="1.1" height="116.39999999999998" fill="#c2c2c2"/>
<rect x="38.21" y="344.6" width="0.8" height="116.39999999999998" fill="#949494" opacity="0.6"/>
<rect x="40.83" y="344.6" width="1.1" height="116.39999999999998" fill="#b6b6b6"/>
<rect x="41.93" y="344.6" width="0.8" height="116.39999999999998" fill="#949494" opacity="0.6"/>
<rect x="45.19" y="344.6" width="1.1" height="116.39999999999998" fill="#d0d0d0"/>
<rect x="46.29" y="344.6" width="0.8" height="116.39999999999998" fill="#949494" opacity="0.6"/>
<rect x="49.40" y="344.6" width="1.1" height="116.39999999999998" fill="#d0d0d0"/>
<rect x="50.50" y="344.6" width="0.8" height="116.39999999999998" fill="#949494" opacity="0.6"/>
<rect x="52.86" y="344.6" width="1.1" height="116.39999999999998" fill="#d0d0d0"/>
<rect x="53.96" y="344.6" width="0.8" height="116.39999999999998" fill="#949494" opacity="0.6"/>
<rect x="57.52" y="344.6" width="1.1" height="116.39999999999998" fill="#c2c2c2"/>
<rect x="479.6" y="344.6" width="30.599999999999966" height="116.39999999999998" fill="#a4a4a4"/>
<rect x="482.08" y="344.6" width="1.1" height="116.39999999999998" fill="#d0d0d0"/>
<rect x="483.18" y="344.6" width="0.8" height="116.39999999999998" fill="#949494" opacity="0.6"/>
<rect x="486.20" y="344.6" width="1.1" height="116.39999999999998" fill="#d0d0d0"/>
<rect x="487.30" y="344.6" width="0.8" height="116.39999999999998" fill="#949494" opacity="0.6"/>
<rect x="489.21" y="344.6" width="1.1" height="116.39999999999998" fill="#d0d0d0"/>
<rect x="490.31" y="344.6" width="0.8" height="116.39999999999998" fill="#949494" opacity="0.6"/>
<rect x="493.19" y="344.6" width="1.1" height="116.39999999999998" fill="#d0d0d0"/>
<rect x="494.29" y="344.6" width="0.8" height="116.39999999999998" fill="#949494" opacity="0.6"/>
<rect x="496.98" y="344.6" width="1.1" height="116.39999999999998" fill="#d0d0d0"/>
<rect x="498.08" y="344.6" width="0.8" height="116.39999999999998" fill="#949494" opacity="0.6"/>
<rect x="499.57" y="344.6" width="1.1" height="116.39999999999998" fill="#d0d0d0"/>
<rect x="500.67" y="344.6" width="0.8" height="116.39999999999998" fill="#949494" opacity="0.6"/>
<rect x="502.59" y="344.6" width="1.1" height="116.39999999999998" fill="#d0d0d0"/>
<rect x="503.69" y="344.6" width="0.8" height="116.39999999999998" fill="#949494" opacity="0.6"/>
<rect x="506.32" y="344.6" width="1.1" height="116.39999999999998" fill="#b6b6b6"/>
<rect x="507.42" y="344.6" width="0.8" height="116.39999999999998" fill="#949494" opacity="0.6"/>
<rect x="509.32" y="344.6" width="1.1" height="116.39999999999998" fill="#c2c2c2"/>
<rect x="61.4" y="344.6" width="82.79999999999998" height="116.4" fill="#a3a3a3"/>
<rect x="61.4" y="345.6" width="82.79999999999998" height="5.699999999999989" fill="#c6c6c6"/>
<rect x="63.24" y="345.6" width="1.1" height="5.699999999999989" fill="#eeeeee"/>
<rect x="64.34" y="345.6" width="0.8" height="5.699999999999989" fill="#9a9a9a" opacity="0.6"/>
<rect x="67.03" y="345.6" width="1.1" height="5.699999999999989" fill="#dedede"/>
<rect x="68.13" y="345.6" width="0.8" height="5.699999999999989" fill="#9a9a9a" opacity="0.6"/>
<rect x="69.83" y="345.6" width="1.1" height="5.699999999999989" fill="#eeeeee"/>
<rect x="70.93" y="345.6" width="0.8" height="5.699999999999989" fill="#9a9a9a" opacity="0.6"/>
<rect x="73.01" y="345.6" width="1.1" height="5.699999999999989" fill="#dedede"/>
<rect x="74.11" y="345.6" width="0.8" height="5.699999999999989" fill="#9a9a9a" opacity="0.6"/>
<rect x="75.37" y="345.6" width="1.1" height="5.699999999999989" fill="#b0b0b0"/>
<rect x="76.47" y="345.6" width="0.8" height="5.699999999999989" fill="#9a9a9a" opacity="0.6"/>
<rect x="78.24" y="345.6" width="1.1" height="5.699999999999989" fill="#eeeeee"/>
<rect x="79.34" y="345.6" width="0.8" height="5.699999999999989" fill="#9a9a9a" opacity="0.6"/>
<rect x="81.13" y="345.6" width="1.1" height="5.699999999999989" fill="#eeeeee"/>
<rect x="82.23" y="345.6" width="0.8" height="5.699999999999989" fill="#9a9a9a" opacity="0.6"/>
<rect x="85.08" y="345.6" width="1.1" height="5.699999999999989" fill="#eeeeee"/>
<rect x="86.18" y="345.6" width="0.8" height="5.699999999999989" fill="#9a9a9a" opacity="0.6"/>
<rect x="88.54" y="345.6" width="1.1" height="5.699999999999989" fill="#dedede"/>
<rect x="89.64" y="345.6" width="0.8" height="5.699999999999989" fill="#9a9a9a" opacity="0.6"/>
<rect x="90.83" y="345.6" width="1.1" height="5.699999999999989" fill="#eeeeee"/>
<rect x="91.93" y="345.6" width="0.8" height="5.699999999999989" fill="#9a9a9a" opacity="0.6"/>
<rect x="93.32" y="345.6" width="1.1" height="5.699999999999989" fill="#b0b0b0"/>
<rect x="94.42" y="345.6" width="0.8" height="5.699999999999989" fill="#9a9a9a" opacity="0.6"/>
<rect x="96.13" y="345.6" width="1.1" height="5.699999999999989" fill="#dedede"/>
<rect x="97.23" y="345.6" width="0.8" height="5.699999999999989" fill="#9a9a9a" opacity="0.6"/>
<rect x="99.78" y="345.6" width="1.1" height="5.699999999999989" fill="#dedede"/>
<rect x="100.88" y="345.6" width="0.8" height="5.699999999999989" fill="#9a9a9a" opacity="0.6"/>
<rect x="102.87" y="345.6" width="1.1" height="5.699999999999989" fill="#dedede"/>
<rect x="103.97" y="345.6" width="0.8" height="5.699999999999989" fill="#9a9a9a" opacity="0.6"/>
<rect x="106.30" y="345.6" width="1.1" height="5.699999999999989" fill="#eeeeee"/>
<rect x="107.40" y="345.6" width="0.8" height="5.699999999999989" fill="#9a9a9a" opacity="0.6"/>
<rect x="110.04" y="345.6" width="1.1" height="5.699999999999989" fill="#dedede"/>
<rect x="111.14" y="345.6" width="0.8" height="5.699999999999989" fill="#9a9a9a" opacity="0.6"/>
<rect x="113.08" y="345.6" width="1.1" height="5.699999999999989" fill="#eeeeee"/>
<rect x="114.18" y="345.6" width="0.8" height="5.699999999999989" fill="#9a9a9a" opacity="0.6"/>
<rect x="115.57" y="345.6" width="1.1" height="5.699999999999989" fill="#eeeeee"/>
<rect x="116.67" y="345.6" width="0.8" height="5.699999999999989" fill="#9a9a9a" opacity="0.6"/>
<rect x="118.85" y="345.6" width="1.1" height="5.699999999999989" fill="#b0b0b0"/>
<rect x="119.95" y="345.6" width="0.8" height="5.699999999999989" fill="#9a9a9a" opacity="0.6"/>
<rect x="121.12" y="345.6" width="1.1" height="5.699999999999989" fill="#b0b0b0"/>
<rect x="122.22" y="345.6" width="0.8" height="5.699999999999989" fill="#9a9a9a" opacity="0.6"/>
<rect x="123.53" y="345.6" width="1.1" height="5.699999999999989" fill="#dedede"/>
<rect x="124.63" y="345.6" width="0.8" height="5.699999999999989" fill="#9a9a9a" opacity="0.6"/>
<rect x="127.68" y="345.6" width="1.1" height="5.699999999999989" fill="#b0b0b0"/>
<rect x="128.78" y="345.6" width="0.8" height="5.699999999999989" fill="#9a9a9a" opacity="0.6"/>
<rect x="130.26" y="345.6" width="1.1" height="5.699999999999989" fill="#b0b0b0"/>
<rect x="131.36" y="345.6" width="0.8" height="5.699999999999989" fill="#9a9a9a" opacity="0.6"/>
<rect x="133.17" y="345.6" width="1.1" height="5.699999999999989" fill="#eeeeee"/>
<rect x="134.27" y="345.6" width="0.8" height="5.699999999999989" fill="#9a9a9a" opacity="0.6"/>
<rect x="136.16" y="345.6" width="1.1" height="5.699999999999989" fill="#eeeeee"/>
<rect x="137.26" y="345.6" width="0.8" height="5.699999999999989" fill="#9a9a9a" opacity="0.6"/>
<rect x="139.60" y="345.6" width="1.1" height="5.699999999999989" fill="#dedede"/>
<rect x="140.70" y="345.6" width="0.8" height="5.699999999999989" fill="#9a9a9a" opacity="0.6"/>
<rect x="141.90" y="345.6" width="1.1" height="5.699999999999989" fill="#b0b0b0"/>
<rect x="143.00" y="345.6" width="0.8" height="5.699999999999989" fill="#9a9a9a" opacity="0.6"/>
<line x1="61.4" y1="351.5" x2="144.2" y2="351.5" stroke="#222" stroke-width="1"/>
<rect x="61.4" y="456.6" width="82.79999999999998" height="4.399999999999977" fill="#c6c6c6"/>
<rect x="63.11" y="456.6" width="1.1" height="4.399999999999977" fill="#b0b0b0"/>
<rect x="64.21" y="456.6" width="0.8" height="4.399999999999977" fill="#9a9a9a" opacity="0.6"/>
<rect x="65.51" y="456.6" width="1.1" height="4.399999999999977" fill="#eeeeee"/>
<rect x="66.61" y="456.6" width="0.8" height="4.399999999999977" fill="#9a9a9a" opacity="0.6"/>
<rect x="69.30" y="456.6" width="1.1" height="4.399999999999977" fill="#eeeeee"/>
<rect x="70.40" y="456.6" width="0.8" height="4.399999999999977" fill="#9a9a9a" opacity="0.6"/>
<rect x="72.82" y="456.6" width="1.1" height="4.399999999999977" fill="#b0b0b0"/>
<rect x="73.92" y="456.6" width="0.8" height="4.399999999999977" fill="#9a9a9a" opacity="0.6"/>
<rect x="76.19" y="456.6" width="1.1" height="4.399999999999977" fill="#b0b0b0"/>
<rect x="77.29" y="456.6" width="0.8" height="4.399999999999977" fill="#9a9a9a" opacity="0.6"/>
<rect x="79.74" y="456.6" width="1.1" height="4.399999999999977" fill="#eeeeee"/>
<rect x="80.84" y="456.6" width="0.8" height="4.399999999999977" fill="#9a9a9a" opacity="0.6"/>
<rect x="82.79" y="456.6" width="1.1" height="4.399999999999977" fill="#b0b0b0"/>
<rect x="83.89" y="456.6" width="0.8" height="4.399999999999977" fill="#9a9a9a" opacity="0.6"/>
<rect x="85.26" y="456.6" width="1.1" height="4.399999999999977" fill="#eeeeee"/>
<rect x="86.36" y="456.6" width="0.8" height="4.399999999999977" fill="#9a9a9a" opacity="0.6"/>
<rect x="89.21" y="456.6" width="1.1" height="4.399999999999977" fill="#dedede"/>
<rect x="90.31" y="456.6" width="0.8" height="4.399999999999977" fill="#9a9a9a" opacity="0.6"/>
<rect x="91.91" y="456.6" width="1.1" height="4.399999999999977" fill="#dedede"/>
<rect x="93.01" y="456.6" width="0.8" height="4.399999999999977" fill="#9a9a9a" opacity="0.6"/>
<rect x="94.24" y="456.6" width="1.1" height="4.399999999999977" fill="#eeeeee"/>
<rect x="95.34" y="456.6" width="0.8" height="4.399999999999977" fill="#9a9a9a" opacity="0.6"/>
<rect x="97.49" y="456.6" width="1.1" height="4.399999999999977" fill="#eeeeee"/>
<rect x="98.59" y="456.6" width="0.8" height="4.399999999999977" fill="#9a9a9a" opacity="0.6"/>
<rect x="100.93" y="456.6" width="1.1" height="4.399999999999977" fill="#b0b0b0"/>
<rect x="102.03" y="456.6" width="0.8" height="4.399999999999977" fill="#9a9a9a" opacity="0.6"/>
<rect x="104.65" y="456.6" width="1.1" height="4.399999999999977" fill="#b0b0b0"/>
<rect x="105.75" y="456.6" width="0.8" height="4.399999999999977" fill="#9a9a9a" opacity="0.6"/>
<rect x="107.72" y="456.6" width="1.1" height="4.399999999999977" fill="#eeeeee"/>
<rect x="108.82" y="456.6" width="0.8" height="4.399999999999977" fill="#9a9a9a" opacity="0.6"/>
<rect x="111.41" y="456.6" width="1.1" height="4.399999999999977" fill="#b0b0b0"/>
<rect x="112.51" y="456.6" width="0.8" height="4.399999999999977" fill="#9a9a9a" opacity="0.6"/>
<rect x="114.23" y="456.6" width="1.1" height="4.399999999999977" fill="#eeeeee"/>
<rect x="115.33" y="456.6" width="0.8" height="4.399999999999977" fill="#9a9a9a" opacity="0.6"/>
<rect x="116.96" y="456.6" width="1.1" height="4.399999999999977" fill="#b0b0b0"/>
<rect x="118.06" y="456.6" width="0.8" height="4.399999999999977" fill="#9a9a9a" opacity="0.6"/>
<rect x="119.96" y="456.6" width="1.1" height="4.399999999999977" fill="#eeeeee"/>
<rect x="121.06" y="456.6" width="0.8" height="4.399999999999977" fill="#9a9a9a" opacity="0.6"/>
<rect x="122.82" y="456.6" width="1.1" height="4.399999999999977" fill="#dedede"/>
<rect x="123.92" y="456.6" width="0.8" height="4.399999999999977" fill="#9a9a9a" opacity="0.6"/>
<rect x="126.10" y="456.6" width="1.1" height="4.399999999999977" fill="#eeeeee"/>
<rect x="127.20" y="456.6" width="0.8" height="4.399999999999977" fill="#9a9a9a" opacity="0.6"/>
<rect x="129.77" y="456.6" width="1.1" height="4.399999999999977" fill="#b0b0b0"/>
<rect x="130.87" y="456.6" width="0.8" height="4.399999999999977" fill="#9a9a9a" opacity="0.6"/>
<rect x="132.02" y="456.6" width="1.1" height="4.399999999999977" fill="#b0b0b0"/>
<rect x="133.12" y="456.6" width="0.8" height="4.399999999999977" fill="#9a9a9a" opacity="0.6"/>
<rect x="134.57" y="456.6" width="1.1" height="4.399999999999977" fill="#b0b0b0"/>
<rect x="135.67" y="456.6" width="0.8" height="4.399999999999977" fill="#9a9a9a" opacity="0.6"/>
<rect x="138.32" y="456.6" width="1.1" height="4.399999999999977" fill="#eeeeee"/>
<rect x="139.42" y="456.6" width="0.8" height="4.399999999999977" fill="#9a9a9a" opacity="0.6"/>
<rect x="140.85" y="456.6" width="1.1" height="4.399999999999977" fill="#b0b0b0"/>
<rect x="141.95" y="456.6" width="0.8" height="4.399999999999977" fill="#9a9a9a" opacity="0.6"/>
<rect x="143.22" y="456.6" width="1.1" height="4.399999999999977" fill="#eeeeee"/>
<line x1="61.4" y1="456.4" x2="144.2" y2="456.4" stroke="#222" stroke-width="1"/>
<rect x="61.4" y="403.1" width="82.79999999999998" height="3.4" fill="#fff"/>
<line x1="61.4" y1="403.1" x2="144.2" y2="403.1" stroke="#222" stroke-width="0.9"/>
<line x1="61.4" y1="406.6" x2="144.2" y2="406.6" stroke="#222" stroke-width="0.9"/>
<line x1="61.9" y1="351" x2="61.9" y2="461" stroke="#222" stroke-width="1.1"/>
<line x1="143.7" y1="351" x2="143.7" y2="461" stroke="#222" stroke-width="1.1"/>
<rect x="165.5" y="344.6" width="206.10000000000002" height="116.4" fill="#a3a3a3"/>
<rect x="165.5" y="345.6" width="206.10000000000002" height="5.699999999999989" fill="#c6c6c6"/>
<rect x="166.05" y="345.6" width="1.1" height="5.699999999999989" fill="#b0b0b0"/>
<rect x="167.15" y="345.6" width="0.8" height="5.699999999999989" fill="#9a9a9a" opacity="0.6"/>
<rect x="168.43" y="345.6" width="1.1" height="5.699999999999989" fill="#eeeeee"/>
<rect x="169.53" y="345.6" width="0.8" height="5.699999999999989" fill="#9a9a9a" opacity="0.6"/>
<rect x="172.47" y="345.6" width="1.1" height="5.699999999999989" fill="#b0b0b0"/>
<rect x="173.57" y="345.6" width="0.8" height="5.699999999999989" fill="#9a9a9a" opacity="0.6"/>
<rect x="176.43" y="345.6" width="1.1" height="5.699999999999989" fill="#dedede"/>
<rect x="177.53" y="345.6" width="0.8" height="5.699999999999989" fill="#9a9a9a" opacity="0.6"/>
<rect x="179.78" y="345.6" width="1.1" height="5.699999999999989" fill="#eeeeee"/>
<rect x="180.88" y="345.6" width="0.8" height="5.699999999999989" fill="#9a9a9a" opacity="0.6"/>
<rect x="182.40" y="345.6" width="1.1" height="5.699999999999989" fill="#b0b0b0"/>
<rect x="183.50" y="345.6" width="0.8" height="5.699999999999989" fill="#9a9a9a" opacity="0.6"/>
<rect x="186.18" y="345.6" width="1.1" height="5.699999999999989" fill="#eeeeee"/>
<rect x="187.28" y="345.6" width="0.8" height="5.699999999999989" fill="#9a9a9a" opacity="0.6"/>
<rect x="189.58" y="345.6" width="1.1" height="5.699999999999989" fill="#b0b0b0"/>
<rect x="190.68" y="345.6" width="0.8" height="5.699999999999989" fill="#9a9a9a" opacity="0.6"/>
<rect x="191.92" y="345.6" width="1.1" height="5.699999999999989" fill="#b0b0b0"/>
<rect x="193.02" y="345.6" width="0.8" height="5.699999999999989" fill="#9a9a9a" opacity="0.6"/>
<rect x="196.00" y="345.6" width="1.1" height="5.699999999999989" fill="#b0b0b0"/>
<rect x="197.10" y="345.6" width="0.8" height="5.699999999999989" fill="#9a9a9a" opacity="0.6"/>
<rect x="199.46" y="345.6" width="1.1" height="5.699999999999989" fill="#eeeeee"/>
<rect x="200.56" y="345.6" width="0.8" height="5.699999999999989" fill="#9a9a9a" opacity="0.6"/>
<rect x="202.61" y="345.6" width="1.1" height="5.699999999999989" fill="#b0b0b0"/>
<rect x="203.71" y="345.6" width="0.8" height="5.699999999999989" fill="#9a9a9a" opacity="0.6"/>
<rect x="206.02" y="345.6" width="1.1" height="5.699999999999989" fill="#dedede"/>
<rect x="207.12" y="345.6" width="0.8" height="5.699999999999989" fill="#9a9a9a" opacity="0.6"/>
<rect x="209.43" y="345.6" width="1.1" height="5.699999999999989" fill="#dedede"/>
<rect x="210.53" y="345.6" width="0.8" height="5.699999999999989" fill="#9a9a9a" opacity="0.6"/>
<rect x="213.41" y="345.6" width="1.1" height="5.699999999999989" fill="#eeeeee"/>
<rect x="214.51" y="345.6" width="0.8" height="5.699999999999989" fill="#9a9a9a" opacity="0.6"/>
<rect x="216.01" y="345.6" width="1.1" height="5.699999999999989" fill="#eeeeee"/>
<rect x="217.11" y="345.6" width="0.8" height="5.699999999999989" fill="#9a9a9a" opacity="0.6"/>
<rect x="218.39" y="345.6" width="1.1" height="5.699999999999989" fill="#eeeeee"/>
<rect x="219.49" y="345.6" width="0.8" height="5.699999999999989" fill="#9a9a9a" opacity="0.6"/>
<rect x="220.92" y="345.6" width="1.1" height="5.699999999999989" fill="#b0b0b0"/>
<rect x="222.02" y="345.6" width="0.8" height="5.699999999999989" fill="#9a9a9a" opacity="0.6"/>
<rect x="223.79" y="345.6" width="1.1" height="5.699999999999989" fill="#dedede"/>
<rect x="224.89" y="345.6" width="0.8" height="5.699999999999989" fill="#9a9a9a" opacity="0.6"/>
<rect x="226.11" y="345.6" width="1.1" height="5.699999999999989" fill="#eeeeee"/>
<rect x="227.21" y="345.6" width="0.8" height="5.699999999999989" fill="#9a9a9a" opacity="0.6"/>
<rect x="228.94" y="345.6" width="1.1" height="5.699999999999989" fill="#eeeeee"/>
<rect x="230.04" y="345.6" width="0.8" height="5.699999999999989" fill="#9a9a9a" opacity="0.6"/>
<rect x="232.68" y="345.6" width="1.1" height="5.699999999999989" fill="#b0b0b0"/>
<rect x="233.78" y="345.6" width="0.8" height="5.699999999999989" fill="#9a9a9a" opacity="0.6"/>
<rect x="236.09" y="345.6" width="1.1" height="5.699999999999989" fill="#eeeeee"/>
<rect x="237.19" y="345.6" width="0.8" height="5.699999999999989" fill="#9a9a9a" opacity="0.6"/>
<rect x="239.42" y="345.6" width="1.1" height="5.699999999999989" fill="#eeeeee"/>
<rect x="240.52" y="345.6" width="0.8" height="5.699999999999989" fill="#9a9a9a" opacity="0.6"/>
<rect x="242.01" y="345.6" width="1.1" height="5.699999999999989" fill="#eeeeee"/>
<rect x="243.11" y="345.6" width="0.8" height="5.699999999999989" fill="#9a9a9a" opacity="0.6"/>
<rect x="244.78" y="345.6" width="1.1" height="5.699999999999989" fill="#eeeeee"/>
<rect x="245.88" y="345.6" width="0.8" height="5.699999999999989" fill="#9a9a9a" opacity="0.6"/>
<rect x="248.89" y="345.6" width="1.1" height="5.699999999999989" fill="#eeeeee"/>
<rect x="249.99" y="345.6" width="0.8" height="5.699999999999989" fill="#9a9a9a" opacity="0.6"/>
<rect x="252.56" y="345.6" width="1.1" height="5.699999999999989" fill="#eeeeee"/>
<rect x="253.66" y="345.6" width="0.8" height="5.699999999999989" fill="#9a9a9a" opacity="0.6"/>
<rect x="255.77" y="345.6" width="1.1" height="5.699999999999989" fill="#eeeeee"/>
<rect x="256.87" y="345.6" width="0.8" height="5.699999999999989" fill="#9a9a9a" opacity="0.6"/>
<rect x="258.78" y="345.6" width="1.1" height="5.699999999999989" fill="#dedede"/>
<rect x="259.88" y="345.6" width="0.8" height="5.699999999999989" fill="#9a9a9a" opacity="0.6"/>
<rect x="261.11" y="345.6" width="1.1" height="5.699999999999989" fill="#eeeeee"/>
<rect x="262.21" y="345.6" width="0.8" height="5.699999999999989" fill="#9a9a9a" opacity="0.6"/>
<rect x="263.50" y="345.6" width="1.1" height="5.699999999999989" fill="#b0b0b0"/>
<rect x="264.60" y="345.6" width="0.8" height="5.699999999999989" fill="#9a9a9a" opacity="0.6"/>
<rect x="266.55" y="345.6" width="1.1" height="5.699999999999989" fill="#eeeeee"/>
<rect x="267.65" y="345.6" width="0.8" height="5.699999999999989" fill="#9a9a9a" opacity="0.6"/>
<rect x="270.50" y="345.6" width="1.1" height="5.699999999999989" fill="#eeeeee"/>
<rect x="271.60" y="345.6" width="0.8" height="5.699999999999989" fill="#9a9a9a" opacity="0.6"/>
<rect x="272.89" y="345.6" width="1.1" height="5.699999999999989" fill="#eeeeee"/>
<rect x="273.99" y="345.6" width="0.8" height="5.699999999999989" fill="#9a9a9a" opacity="0.6"/>
<rect x="275.67" y="345.6" width="1.1" height="5.699999999999989" fill="#dedede"/>
<rect x="276.77" y="345.6" width="0.8" height="5.699999999999989" fill="#9a9a9a" opacity="0.6"/>
<rect x="278.94" y="345.6" width="1.1" height="5.699999999999989" fill="#eeeeee"/>
<rect x="280.04" y="345.6" width="0.8" height="5.699999999999989" fill="#9a9a9a" opacity="0.6"/>
<rect x="281.25" y="345.6" width="1.1" height="5.699999999999989" fill="#b0b0b0"/>
<rect x="282.35" y="345.6" width="0.8" height="5.699999999999989" fill="#9a9a9a" opacity="0.6"/>
<rect x="284.70" y="345.6" width="1.1" height="5.699999999999989" fill="#eeeeee"/>
<rect x="285.80" y="345.6" width="0.8" height="5.699999999999989" fill="#9a9a9a" opacity="0.6"/>
<rect x="287.46" y="345.6" width="1.1" height="5.699999999999989" fill="#dedede"/>
<rect x="288.56" y="345.6" width="0.8" height="5.699999999999989" fill="#9a9a9a" opacity="0.6"/>
<rect x="291.58" y="345.6" width="1.1" height="5.699999999999989" fill="#dedede"/>
<rect x="292.68" y="345.6" width="0.8" height="5.699999999999989" fill="#9a9a9a" opacity="0.6"/>
<rect x="294.40" y="345.6" width="1.1" height="5.699999999999989" fill="#eeeeee"/>
<rect x="295.50" y="345.6" width="0.8" height="5.699999999999989" fill="#9a9a9a" opacity="0.6"/>
<rect x="297.08" y="345.6" width="1.1" height="5.699999999999989" fill="#eeeeee"/>
<rect x="298.18" y="345.6" width="0.8" height="5.699999999999989" fill="#9a9a9a" opacity="0.6"/>
<rect x="299.32" y="345.6" width="1.1" height="5.699999999999989" fill="#eeeeee"/>
<rect x="300.42" y="345.6" width="0.8" height="5.699999999999989" fill="#9a9a9a" opacity="0.6"/>
<rect x="302.55" y="345.6" width="1.1" height="5.699999999999989" fill="#dedede"/>
<rect x="303.65" y="345.6" width="0.8" height="5.699999999999989" fill="#9a9a9a" opacity="0.6"/>
<rect x="306.31" y="345.6" width="1.1" height="5.699999999999989" fill="#eeeeee"/>
<rect x="307.41" y="345.6" width="0.8" height="5.699999999999989" fill="#9a9a9a" opacity="0.6"/>
<rect x="310.08" y="345.6" width="1.1" height="5.699999999999989" fill="#b0b0b0"/>
<rect x="311.18" y="345.6" width="0.8" height="5.699999999999989" fill="#9a9a9a" opacity="0.6"/>
<rect x="313.04" y="345.6" width="1.1" height="5.699999999999989" fill="#eeeeee"/>
<rect x="314.14" y="345.6" width="0.8" height="5.699999999999989" fill="#9a9a9a" opacity="0.6"/>
<rect x="315.72" y="345.6" width="1.1" height="5.699999999999989" fill="#b0b0b0"/>
<rect x="316.82" y="345.6" width="0.8" height="5.699999999999989" fill="#9a9a9a" opacity="0.6"/>
<rect x="318.12" y="345.6" width="1.1" height="5.699999999999989" fill="#dedede"/>
<rect x="319.22" y="345.6" width="0.8" height="5.699999999999989" fill="#9a9a9a" opacity="0.6"/>
<rect x="321.06" y="345.6" width="1.1" height="5.699999999999989" fill="#eeeeee"/>
<rect x="322.16" y="345.6" width="0.8" height="5.699999999999989" fill="#9a9a9a" opacity="0.6"/>
<rect x="324.08" y="345.6" width="1.1" height="5.699999999999989" fill="#eeeeee"/>
<rect x="325.18" y="345.6" width="0.8" height="5.699999999999989" fill="#9a9a9a" opacity="0.6"/>
<rect x="327.59" y="345.6" width="1.1" height="5.699999999999989" fill="#eeeeee"/>
<rect x="328.69" y="345.6" width="0.8" height="5.699999999999989" fill="#9a9a9a" opacity="0.6"/>
<rect x="331.02" y="345.6" width="1.1" height="5.699999999999989" fill="#eeeeee"/>
<rect x="332.12" y="345.6" width="0.8" height="5.699999999999989" fill="#9a9a9a" opacity="0.6"/>
<rect x="333.81" y="345.6" width="1.1" height="5.699999999999989" fill="#eeeeee"/>
<rect x="334.91" y="345.6" width="0.8" height="5.699999999999989" fill="#9a9a9a" opacity="0.6"/>
<rect x="337.26" y="345.6" width="1.1" height="5.699999999999989" fill="#eeeeee"/>
<rect x="338.36" y="345.6" width="0.8" height="5.699999999999989" fill="#9a9a9a" opacity="0.6"/>
<rect x="339.82" y="345.6" width="1.1" height="5.699999999999989" fill="#b0b0b0"/>
<rect x="340.92" y="345.6" width="0.8" height="5.699999999999989" fill="#9a9a9a" opacity="0.6"/>
<rect x="343.65" y="345.6" width="1.1" height="5.699999999999989" fill="#eeeeee"/>
<rect x="344.75" y="345.6" width="0.8" height="5.699999999999989" fill="#9a9a9a" opacity="0.6"/>
<rect x="346.64" y="345.6" width="1.1" height="5.699999999999989" fill="#eeeeee"/>
<rect x="347.74" y="345.6" width="0.8" height="5.699999999999989" fill="#9a9a9a" opacity="0.6"/>
<rect x="350.71" y="345.6" width="1.1" height="5.699999999999989" fill="#b0b0b0"/>
<rect x="351.81" y="345.6" width="0.8" height="5.699999999999989" fill="#9a9a9a" opacity="0.6"/>
<rect x="353.40" y="345.6" width="1.1" height="5.699999999999989" fill="#b0b0b0"/>
<rect x="354.50" y="345.6" width="0.8" height="5.699999999999989" fill="#9a9a9a" opacity="0.6"/>
<rect x="356.35" y="345.6" width="1.1" height="5.699999999999989" fill="#eeeeee"/>
<rect x="357.45" y="345.6" width="0.8" height="5.699999999999989" fill="#9a9a9a" opacity="0.6"/>
<rect x="359.43" y="345.6" width="1.1" height="5.699999999999989" fill="#b0b0b0"/>
<rect x="360.53" y="345.6" width="0.8" height="5.699999999999989" fill="#9a9a9a" opacity="0.6"/>
<rect x="363.56" y="345.6" width="1.1" height="5.699999999999989" fill="#eeeeee"/>
<rect x="364.66" y="345.6" width="0.8" height="5.699999999999989" fill="#9a9a9a" opacity="0.6"/>
<rect x="367.52" y="345.6" width="1.1" height="5.699999999999989" fill="#b0b0b0"/>
<rect x="368.62" y="345.6" width="0.8" height="5.699999999999989" fill="#9a9a9a" opacity="0.6"/>
<line x1="165.5" y1="351.5" x2="371.6" y2="351.5" stroke="#222" stroke-width="1"/>
<rect x="165.5" y="456.6" width="206.10000000000002" height="4.399999999999977" fill="#c6c6c6"/>
<rect x="166.84" y="456.6" width="1.1" height="4.399999999999977" fill="#b0b0b0"/>
<rect x="167.94" y="456.6" width="0.8" height="4.399999999999977" fill="#9a9a9a" opacity="0.6"/>
<rect x="169.87" y="456.6" width="1.1" height="4.399999999999977" fill="#eeeeee"/>
<rect x="170.97" y="456.6" width="0.8" height="4.399999999999977" fill="#9a9a9a" opacity="0.6"/>
<rect x="173.99" y="456.6" width="1.1" height="4.399999999999977" fill="#dedede"/>
<rect x="175.09" y="456.6" width="0.8" height="4.399999999999977" fill="#9a9a9a" opacity="0.6"/>
<rect x="177.76" y="456.6" width="1.1" height="4.399999999999977" fill="#eeeeee"/>
<rect x="178.86" y="456.6" width="0.8" height="4.399999999999977" fill="#9a9a9a" opacity="0.6"/>
<rect x="180.40" y="456.6" width="1.1" height="4.399999999999977" fill="#eeeeee"/>
<rect x="181.50" y="456.6" width="0.8" height="4.399999999999977" fill="#9a9a9a" opacity="0.6"/>
<rect x="184.08" y="456.6" width="1.1" height="4.399999999999977" fill="#b0b0b0"/>
<rect x="185.18" y="456.6" width="0.8" height="4.399999999999977" fill="#9a9a9a" opacity="0.6"/>
<rect x="187.45" y="456.6" width="1.1" height="4.399999999999977" fill="#eeeeee"/>
<rect x="188.55" y="456.6" width="0.8" height="4.399999999999977" fill="#9a9a9a" opacity="0.6"/>
<rect x="189.93" y="456.6" width="1.1" height="4.399999999999977" fill="#eeeeee"/>
<rect x="191.03" y="456.6" width="0.8" height="4.399999999999977" fill="#9a9a9a" opacity="0.6"/>
<rect x="193.63" y="456.6" width="1.1" height="4.399999999999977" fill="#b0b0b0"/>
<rect x="194.73" y="456.6" width="0.8" height="4.399999999999977" fill="#9a9a9a" opacity="0.6"/>
<rect x="197.43" y="456.6" width="1.1" height="4.399999999999977" fill="#eeeeee"/>
<rect x="198.53" y="456.6" width="0.8" height="4.399999999999977" fill="#9a9a9a" opacity="0.6"/>
<rect x="200.10" y="456.6" width="1.1" height="4.399999999999977" fill="#eeeeee"/>
<rect x="201.20" y="456.6" width="0.8" height="4.399999999999977" fill="#9a9a9a" opacity="0.6"/>
<rect x="203.76" y="456.6" width="1.1" height="4.399999999999977" fill="#eeeeee"/>
<rect x="204.86" y="456.6" width="0.8" height="4.399999999999977" fill="#9a9a9a" opacity="0.6"/>
<rect x="207.34" y="456.6" width="1.1" height="4.399999999999977" fill="#b0b0b0"/>
<rect x="208.44" y="456.6" width="0.8" height="4.399999999999977" fill="#9a9a9a" opacity="0.6"/>
<rect x="211.10" y="456.6" width="1.1" height="4.399999999999977" fill="#dedede"/>
<rect x="212.20" y="456.6" width="0.8" height="4.399999999999977" fill="#9a9a9a" opacity="0.6"/>
<rect x="213.54" y="456.6" width="1.1" height="4.399999999999977" fill="#dedede"/>
<rect x="214.64" y="456.6" width="0.8" height="4.399999999999977" fill="#9a9a9a" opacity="0.6"/>
<rect x="217.62" y="456.6" width="1.1" height="4.399999999999977" fill="#eeeeee"/>
<rect x="218.72" y="456.6" width="0.8" height="4.399999999999977" fill="#9a9a9a" opacity="0.6"/>
<rect x="220.72" y="456.6" width="1.1" height="4.399999999999977" fill="#dedede"/>
<rect x="221.82" y="456.6" width="0.8" height="4.399999999999977" fill="#9a9a9a" opacity="0.6"/>
<rect x="224.43" y="456.6" width="1.1" height="4.399999999999977" fill="#dedede"/>
<rect x="225.53" y="456.6" width="0.8" height="4.399999999999977" fill="#9a9a9a" opacity="0.6"/>
<rect x="227.80" y="456.6" width="1.1" height="4.399999999999977" fill="#eeeeee"/>
<rect x="228.90" y="456.6" width="0.8" height="4.399999999999977" fill="#9a9a9a" opacity="0.6"/>
<rect x="230.19" y="456.6" width="1.1" height="4.399999999999977" fill="#eeeeee"/>
<rect x="231.29" y="456.6" width="0.8" height="4.399999999999977" fill="#9a9a9a" opacity="0.6"/>
<rect x="233.07" y="456.6" width="1.1" height="4.399999999999977" fill="#b0b0b0"/>
<rect x="234.17" y="456.6" width="0.8" height="4.399999999999977" fill="#9a9a9a" opacity="0.6"/>
<rect x="236.79" y="456.6" width="1.1" height="4.399999999999977" fill="#eeeeee"/>
<rect x="237.89" y="456.6" width="0.8" height="4.399999999999977" fill="#9a9a9a" opacity="0.6"/>
<rect x="240.49" y="456.6" width="1.1" height="4.399999999999977" fill="#eeeeee"/>
<rect x="241.59" y="456.6" width="0.8" height="4.399999999999977" fill="#9a9a9a" opacity="0.6"/>
<rect x="243.11" y="456.6" width="1.1" height="4.399999999999977" fill="#eeeeee"/>
<rect x="244.21" y="456.6" width="0.8" height="4.399999999999977" fill="#9a9a9a" opacity="0.6"/>
<rect x="246.62" y="456.6" width="1.1" height="4.399999999999977" fill="#eeeeee"/>
<rect x="247.72" y="456.6" width="0.8" height="4.399999999999977" fill="#9a9a9a" opacity="0.6"/>
<rect x="249.79" y="456.6" width="1.1" height="4.399999999999977" fill="#eeeeee"/>
<rect x="250.89" y="456.6" width="0.8" height="4.399999999999977" fill="#9a9a9a" opacity="0.6"/>
<rect x="253.68" y="456.6" width="1.1" height="4.399999999999977" fill="#eeeeee"/>
<rect x="254.78" y="456.6" width="0.8" height="4.399999999999977" fill="#9a9a9a" opacity="0.6"/>
<rect x="257.63" y="456.6" width="1.1" height="4.399999999999977" fill="#eeeeee"/>
<rect x="258.73" y="456.6" width="0.8" height="4.399999999999977" fill="#9a9a9a" opacity="0.6"/>
<rect x="260.01" y="456.6" width="1.1" height="4.399999999999977" fill="#dedede"/>
<rect x="261.11" y="456.6" width="0.8" height="4.399999999999977" fill="#9a9a9a" opacity="0.6"/>
<rect x="262.40" y="456.6" width="1.1" height="4.399999999999977" fill="#b0b0b0"/>
<rect x="263.50" y="456.6" width="0.8" height="4.399999999999977" fill="#9a9a9a" opacity="0.6"/>
<rect x="264.78" y="456.6" width="1.1" height="4.399999999999977" fill="#dedede"/>
<rect x="265.88" y="456.6" width="0.8" height="4.399999999999977" fill="#9a9a9a" opacity="0.6"/>
<rect x="267.28" y="456.6" width="1.1" height="4.399999999999977" fill="#eeeeee"/>
<rect x="268.38" y="456.6" width="0.8" height="4.399999999999977" fill="#9a9a9a" opacity="0.6"/>
<rect x="270.68" y="456.6" width="1.1" height="4.399999999999977" fill="#b0b0b0"/>
<rect x="271.78" y="456.6" width="0.8" height="4.399999999999977" fill="#9a9a9a" opacity="0.6"/>
<rect x="273.84" y="456.6" width="1.1" height="4.399999999999977" fill="#dedede"/>
<rect x="274.94" y="456.6" width="0.8" height="4.399999999999977" fill="#9a9a9a" opacity="0.6"/>
<rect x="276.58" y="456.6" width="1.1" height="4.399999999999977" fill="#eeeeee"/>
<rect x="277.68" y="456.6" width="0.8" height="4.399999999999977" fill="#9a9a9a" opacity="0.6"/>
<rect x="279.65" y="456.6" width="1.1" height="4.399999999999977" fill="#eeeeee"/>
<rect x="280.75" y="456.6" width="0.8" height="4.399999999999977" fill="#9a9a9a" opacity="0.6"/>
<rect x="283.39" y="456.6" width="1.1" height="4.399999999999977" fill="#dedede"/>
<rect x="284.49" y="456.6" width="0.8" height="4.399999999999977" fill="#9a9a9a" opacity="0.6"/>
<rect x="285.83" y="456.6" width="1.1" height="4.399999999999977" fill="#dedede"/>
<rect x="286.93" y="456.6" width="0.8" height="4.399999999999977" fill="#9a9a9a" opacity="0.6"/>
<rect x="288.49" y="456.6" width="1.1" height="4.399999999999977" fill="#eeeeee"/>
<rect x="289.59" y="456.6" width="0.8" height="4.399999999999977" fill="#9a9a9a" opacity="0.6"/>
<rect x="292.55" y="456.6" width="1.1" height="4.399999999999977" fill="#dedede"/>
<rect x="293.65" y="456.6" width="0.8" height="4.399999999999977" fill="#9a9a9a" opacity="0.6"/>
<rect x="294.99" y="456.6" width="1.1" height="4.399999999999977" fill="#eeeeee"/>
<rect x="296.09" y="456.6" width="0.8" height="4.399999999999977" fill="#9a9a9a" opacity="0.6"/>
<rect x="297.28" y="456.6" width="1.1" height="4.399999999999977" fill="#b0b0b0"/>
<rect x="298.38" y="456.6" width="0.8" height="4.399999999999977" fill="#9a9a9a" opacity="0.6"/>
<rect x="299.83" y="456.6" width="1.1" height="4.399999999999977" fill="#dedede"/>
<rect x="300.93" y="456.6" width="0.8" height="4.399999999999977" fill="#9a9a9a" opacity="0.6"/>
<rect x="302.70" y="456.6" width="1.1" height="4.399999999999977" fill="#eeeeee"/>
<rect x="303.80" y="456.6" width="0.8" height="4.399999999999977" fill="#9a9a9a" opacity="0.6"/>
<rect x="306.80" y="456.6" width="1.1" height="4.399999999999977" fill="#b0b0b0"/>
<rect x="307.90" y="456.6" width="0.8" height="4.399999999999977" fill="#9a9a9a" opacity="0.6"/>
<rect x="309.06" y="456.6" width="1.1" height="4.399999999999977" fill="#eeeeee"/>
<rect x="310.16" y="456.6" width="0.8" height="4.399999999999977" fill="#9a9a9a" opacity="0.6"/>
<rect x="313.02" y="456.6" width="1.1" height="4.399999999999977" fill="#dedede"/>
<rect x="314.12" y="456.6" width="0.8" height="4.399999999999977" fill="#9a9a9a" opacity="0.6"/>
<rect x="315.95" y="456.6" width="1.1" height="4.399999999999977" fill="#eeeeee"/>
<rect x="317.05" y="456.6" width="0.8" height="4.399999999999977" fill="#9a9a9a" opacity="0.6"/>
<rect x="318.29" y="456.6" width="1.1" height="4.399999999999977" fill="#b0b0b0"/>
<rect x="319.39" y="456.6" width="0.8" height="4.399999999999977" fill="#9a9a9a" opacity="0.6"/>
<rect x="321.39" y="456.6" width="1.1" height="4.399999999999977" fill="#b0b0b0"/>
<rect x="322.49" y="456.6" width="0.8" height="4.399999999999977" fill="#9a9a9a" opacity="0.6"/>
<rect x="324.60" y="456.6" width="1.1" height="4.399999999999977" fill="#eeeeee"/>
<rect x="325.70" y="456.6" width="0.8" height="4.399999999999977" fill="#9a9a9a" opacity="0.6"/>
<rect x="327.27" y="456.6" width="1.1" height="4.399999999999977" fill="#eeeeee"/>
<rect x="328.37" y="456.6" width="0.8" height="4.399999999999977" fill="#9a9a9a" opacity="0.6"/>
<rect x="330.41" y="456.6" width="1.1" height="4.399999999999977" fill="#eeeeee"/>
<rect x="331.51" y="456.6" width="0.8" height="4.399999999999977" fill="#9a9a9a" opacity="0.6"/>
<rect x="334.13" y="456.6" width="1.1" height="4.399999999999977" fill="#b0b0b0"/>
<rect x="335.23" y="456.6" width="0.8" height="4.399999999999977" fill="#9a9a9a" opacity="0.6"/>
<rect x="338.02" y="456.6" width="1.1" height="4.399999999999977" fill="#eeeeee"/>
<rect x="339.12" y="456.6" width="0.8" height="4.399999999999977" fill="#9a9a9a" opacity="0.6"/>
<rect x="342.13" y="456.6" width="1.1" height="4.399999999999977" fill="#b0b0b0"/>
<rect x="343.23" y="456.6" width="0.8" height="4.399999999999977" fill="#9a9a9a" opacity="0.6"/>
<rect x="345.42" y="456.6" width="1.1" height="4.399999999999977" fill="#eeeeee"/>
<rect x="346.52" y="456.6" width="0.8" height="4.399999999999977" fill="#9a9a9a" opacity="0.6"/>
<rect x="348.27" y="456.6" width="1.1" height="4.399999999999977" fill="#eeeeee"/>
<rect x="349.37" y="456.6" width="0.8" height="4.399999999999977" fill="#9a9a9a" opacity="0.6"/>
<rect x="352.39" y="456.6" width="1.1" height="4.399999999999977" fill="#b0b0b0"/>
<rect x="353.49" y="456.6" width="0.8" height="4.399999999999977" fill="#9a9a9a" opacity="0.6"/>
<rect x="355.35" y="456.6" width="1.1" height="4.399999999999977" fill="#dedede"/>
<rect x="356.45" y="456.6" width="0.8" height="4.399999999999977" fill="#9a9a9a" opacity="0.6"/>
<rect x="358.86" y="456.6" width="1.1" height="4.399999999999977" fill="#eeeeee"/>
<rect x="359.96" y="456.6" width="0.8" height="4.399999999999977" fill="#9a9a9a" opacity="0.6"/>
<rect x="362.31" y="456.6" width="1.1" height="4.399999999999977" fill="#dedede"/>
<rect x="363.41" y="456.6" width="0.8" height="4.399999999999977" fill="#9a9a9a" opacity="0.6"/>
<rect x="365.96" y="456.6" width="1.1" height="4.399999999999977" fill="#eeeeee"/>
<rect x="367.06" y="456.6" width="0.8" height="4.399999999999977" fill="#9a9a9a" opacity="0.6"/>
<rect x="369.75" y="456.6" width="1.1" height="4.399999999999977" fill="#eeeeee"/>
<rect x="370.85" y="456.6" width="0.8" height="4.399999999999977" fill="#9a9a9a" opacity="0.6"/>
<line x1="165.5" y1="456.4" x2="371.6" y2="456.4" stroke="#222" stroke-width="1"/>
<rect x="165.5" y="403.1" width="206.10000000000002" height="3.4" fill="#fff"/>
<line x1="165.5" y1="403.1" x2="371.6" y2="403.1" stroke="#222" stroke-width="0.9"/>
<line x1="165.5" y1="406.6" x2="371.6" y2="406.6" stroke="#222" stroke-width="0.9"/>
<line x1="166.0" y1="351" x2="166.0" y2="461" stroke="#222" stroke-width="1.1"/>
<line x1="371.1" y1="351" x2="371.1" y2="461" stroke="#222" stroke-width="1.1"/>
<rect x="393.4" y="344.6" width="83.40000000000003" height="116.4" fill="#a3a3a3"/>
<rect x="393.4" y="345.6" width="83.40000000000003" height="5.699999999999989" fill="#c6c6c6"/>
<rect x="394.91" y="345.6" width="1.1" height="5.699999999999989" fill="#eeeeee"/>
<rect x="396.01" y="345.6" width="0.8" height="5.699999999999989" fill="#9a9a9a" opacity="0.6"/>
<rect x="398.88" y="345.6" width="1.1" height="5.699999999999989" fill="#b0b0b0"/>
<rect x="399.98" y="345.6" width="0.8" height="5.699999999999989" fill="#9a9a9a" opacity="0.6"/>
<rect x="402.00" y="345.6" width="1.1" height="5.699999999999989" fill="#eeeeee"/>
<rect x="403.10" y="345.6" width="0.8" height="5.699999999999989" fill="#9a9a9a" opacity="0.6"/>
<rect x="404.34" y="345.6" width="1.1" height="5.699999999999989" fill="#eeeeee"/>
<rect x="405.44" y="345.6" width="0.8" height="5.699999999999989" fill="#9a9a9a" opacity="0.6"/>
<rect x="408.19" y="345.6" width="1.1" height="5.699999999999989" fill="#eeeeee"/>
<rect x="409.29" y="345.6" width="0.8" height="5.699999999999989" fill="#9a9a9a" opacity="0.6"/>
<rect x="410.46" y="345.6" width="1.1" height="5.699999999999989" fill="#eeeeee"/>
<rect x="411.56" y="345.6" width="0.8" height="5.699999999999989" fill="#9a9a9a" opacity="0.6"/>
<rect x="413.59" y="345.6" width="1.1" height="5.699999999999989" fill="#eeeeee"/>
<rect x="414.69" y="345.6" width="0.8" height="5.699999999999989" fill="#9a9a9a" opacity="0.6"/>
<rect x="416.22" y="345.6" width="1.1" height="5.699999999999989" fill="#b0b0b0"/>
<rect x="417.32" y="345.6" width="0.8" height="5.699999999999989" fill="#9a9a9a" opacity="0.6"/>
<rect x="419.47" y="345.6" width="1.1" height="5.699999999999989" fill="#b0b0b0"/>
<rect x="420.57" y="345.6" width="0.8" height="5.699999999999989" fill="#9a9a9a" opacity="0.6"/>
<rect x="421.98" y="345.6" width="1.1" height="5.699999999999989" fill="#b0b0b0"/>
<rect x="423.08" y="345.6" width="0.8" height="5.699999999999989" fill="#9a9a9a" opacity="0.6"/>
<rect x="425.47" y="345.6" width="1.1" height="5.699999999999989" fill="#eeeeee"/>
<rect x="426.57" y="345.6" width="0.8" height="5.699999999999989" fill="#9a9a9a" opacity="0.6"/>
<rect x="428.77" y="345.6" width="1.1" height="5.699999999999989" fill="#b0b0b0"/>
<rect x="429.87" y="345.6" width="0.8" height="5.699999999999989" fill="#9a9a9a" opacity="0.6"/>
<rect x="431.60" y="345.6" width="1.1" height="5.699999999999989" fill="#dedede"/>
<rect x="432.70" y="345.6" width="0.8" height="5.699999999999989" fill="#9a9a9a" opacity="0.6"/>
<rect x="435.00" y="345.6" width="1.1" height="5.699999999999989" fill="#b0b0b0"/>
<rect x="436.10" y="345.6" width="0.8" height="5.699999999999989" fill="#9a9a9a" opacity="0.6"/>
<rect x="437.45" y="345.6" width="1.1" height="5.699999999999989" fill="#b0b0b0"/>
<rect x="438.55" y="345.6" width="0.8" height="5.699999999999989" fill="#9a9a9a" opacity="0.6"/>
<rect x="440.12" y="345.6" width="1.1" height="5.699999999999989" fill="#b0b0b0"/>
<rect x="441.22" y="345.6" width="0.8" height="5.699999999999989" fill="#9a9a9a" opacity="0.6"/>
<rect x="443.26" y="345.6" width="1.1" height="5.699999999999989" fill="#b0b0b0"/>
<rect x="444.36" y="345.6" width="0.8" height="5.699999999999989" fill="#9a9a9a" opacity="0.6"/>
<rect x="445.75" y="345.6" width="1.1" height="5.699999999999989" fill="#b0b0b0"/>
<rect x="446.85" y="345.6" width="0.8" height="5.699999999999989" fill="#9a9a9a" opacity="0.6"/>
<rect x="448.70" y="345.6" width="1.1" height="5.699999999999989" fill="#eeeeee"/>
<rect x="449.80" y="345.6" width="0.8" height="5.699999999999989" fill="#9a9a9a" opacity="0.6"/>
<rect x="452.45" y="345.6" width="1.1" height="5.699999999999989" fill="#eeeeee"/>
<rect x="453.55" y="345.6" width="0.8" height="5.699999999999989" fill="#9a9a9a" opacity="0.6"/>
<rect x="454.83" y="345.6" width="1.1" height="5.699999999999989" fill="#eeeeee"/>
<rect x="455.93" y="345.6" width="0.8" height="5.699999999999989" fill="#9a9a9a" opacity="0.6"/>
<rect x="458.64" y="345.6" width="1.1" height="5.699999999999989" fill="#eeeeee"/>
<rect x="459.74" y="345.6" width="0.8" height="5.699999999999989" fill="#9a9a9a" opacity="0.6"/>
<rect x="461.03" y="345.6" width="1.1" height="5.699999999999989" fill="#dedede"/>
<rect x="462.13" y="345.6" width="0.8" height="5.699999999999989" fill="#9a9a9a" opacity="0.6"/>
<rect x="464.90" y="345.6" width="1.1" height="5.699999999999989" fill="#eeeeee"/>
<rect x="466.00" y="345.6" width="0.8" height="5.699999999999989" fill="#9a9a9a" opacity="0.6"/>
<rect x="468.65" y="345.6" width="1.1" height="5.699999999999989" fill="#eeeeee"/>
<rect x="469.75" y="345.6" width="0.8" height="5.699999999999989" fill="#9a9a9a" opacity="0.6"/>
<rect x="471.48" y="345.6" width="1.1" height="5.699999999999989" fill="#eeeeee"/>
<rect x="472.58" y="345.6" width="0.8" height="5.699999999999989" fill="#9a9a9a" opacity="0.6"/>
<rect x="475.19" y="345.6" width="1.1" height="5.699999999999989" fill="#b0b0b0"/>
<line x1="393.4" y1="351.5" x2="476.8" y2="351.5" stroke="#222" stroke-width="1"/>
<rect x="393.4" y="456.6" width="83.40000000000003" height="4.399999999999977" fill="#c6c6c6"/>
<rect x="395.24" y="456.6" width="1.1" height="4.399999999999977" fill="#dedede"/>
<rect x="396.34" y="456.6" width="0.8" height="4.399999999999977" fill="#9a9a9a" opacity="0.6"/>
<rect x="399.34" y="456.6" width="1.1" height="4.399999999999977" fill="#dedede"/>
<rect x="400.44" y="456.6" width="0.8" height="4.399999999999977" fill="#9a9a9a" opacity="0.6"/>
<rect x="403.20" y="456.6" width="1.1" height="4.399999999999977" fill="#b0b0b0"/>
<rect x="404.30" y="456.6" width="0.8" height="4.399999999999977" fill="#9a9a9a" opacity="0.6"/>
<rect x="407.06" y="456.6" width="1.1" height="4.399999999999977" fill="#eeeeee"/>
<rect x="408.16" y="456.6" width="0.8" height="4.399999999999977" fill="#9a9a9a" opacity="0.6"/>
<rect x="410.66" y="456.6" width="1.1" height="4.399999999999977" fill="#b0b0b0"/>
<rect x="411.76" y="456.6" width="0.8" height="4.399999999999977" fill="#9a9a9a" opacity="0.6"/>
<rect x="414.50" y="456.6" width="1.1" height="4.399999999999977" fill="#eeeeee"/>
<rect x="415.60" y="456.6" width="0.8" height="4.399999999999977" fill="#9a9a9a" opacity="0.6"/>
<rect x="416.99" y="456.6" width="1.1" height="4.399999999999977" fill="#b0b0b0"/>
<rect x="418.09" y="456.6" width="0.8" height="4.399999999999977" fill="#9a9a9a" opacity="0.6"/>
<rect x="420.58" y="456.6" width="1.1" height="4.399999999999977" fill="#eeeeee"/>
<rect x="421.68" y="456.6" width="0.8" height="4.399999999999977" fill="#9a9a9a" opacity="0.6"/>
<rect x="423.94" y="456.6" width="1.1" height="4.399999999999977" fill="#eeeeee"/>
<rect x="425.04" y="456.6" width="0.8" height="4.399999999999977" fill="#9a9a9a" opacity="0.6"/>
<rect x="426.88" y="456.6" width="1.1" height="4.399999999999977" fill="#b0b0b0"/>
<rect x="427.98" y="456.6" width="0.8" height="4.399999999999977" fill="#9a9a9a" opacity="0.6"/>
<rect x="429.84" y="456.6" width="1.1" height="4.399999999999977" fill="#b0b0b0"/>
<rect x="430.94" y="456.6" width="0.8" height="4.399999999999977" fill="#9a9a9a" opacity="0.6"/>
<rect x="433.35" y="456.6" width="1.1" height="4.399999999999977" fill="#b0b0b0"/>
<rect x="434.45" y="456.6" width="0.8" height="4.399999999999977" fill="#9a9a9a" opacity="0.6"/>
<rect x="437.47" y="456.6" width="1.1" height="4.399999999999977" fill="#eeeeee"/>
<rect x="438.57" y="456.6" width="0.8" height="4.399999999999977" fill="#9a9a9a" opacity="0.6"/>
<rect x="440.26" y="456.6" width="1.1" height="4.399999999999977" fill="#eeeeee"/>
<rect x="441.36" y="456.6" width="0.8" height="4.399999999999977" fill="#9a9a9a" opacity="0.6"/>
<rect x="443.47" y="456.6" width="1.1" height="4.399999999999977" fill="#eeeeee"/>
<rect x="444.57" y="456.6" width="0.8" height="4.399999999999977" fill="#9a9a9a" opacity="0.6"/>
<rect x="446.65" y="456.6" width="1.1" height="4.399999999999977" fill="#dedede"/>
<rect x="447.75" y="456.6" width="0.8" height="4.399999999999977" fill="#9a9a9a" opacity="0.6"/>
<rect x="450.30" y="456.6" width="1.1" height="4.399999999999977" fill="#dedede"/>
<rect x="451.40" y="456.6" width="0.8" height="4.399999999999977" fill="#9a9a9a" opacity="0.6"/>
<rect x="453.75" y="456.6" width="1.1" height="4.399999999999977" fill="#eeeeee"/>
<rect x="454.85" y="456.6" width="0.8" height="4.399999999999977" fill="#9a9a9a" opacity="0.6"/>
<rect x="457.30" y="456.6" width="1.1" height="4.399999999999977" fill="#dedede"/>
<rect x="458.40" y="456.6" width="0.8" height="4.399999999999977" fill="#9a9a9a" opacity="0.6"/>
<rect x="461.21" y="456.6" width="1.1" height="4.399999999999977" fill="#b0b0b0"/>
<rect x="462.31" y="456.6" width="0.8" height="4.399999999999977" fill="#9a9a9a" opacity="0.6"/>
<rect x="465.35" y="456.6" width="1.1" height="4.399999999999977" fill="#dedede"/>
<rect x="466.45" y="456.6" width="0.8" height="4.399999999999977" fill="#9a9a9a" opacity="0.6"/>
<rect x="468.08" y="456.6" width="1.1" height="4.399999999999977" fill="#eeeeee"/>
<rect x="469.18" y="456.6" width="0.8" height="4.399999999999977" fill="#9a9a9a" opacity="0.6"/>
<rect x="471.83" y="456.6" width="1.1" height="4.399999999999977" fill="#eeeeee"/>
<rect x="472.93" y="456.6" width="0.8" height="4.399999999999977" fill="#9a9a9a" opacity="0.6"/>
<rect x="474.59" y="456.6" width="1.1" height="4.399999999999977" fill="#eeeeee"/>
<rect x="475.69" y="456.6" width="0.8" height="4.399999999999977" fill="#9a9a9a" opacity="0.6"/>
<line x1="393.4" y1="456.4" x2="476.8" y2="456.4" stroke="#222" stroke-width="1"/>
<rect x="393.4" y="403.1" width="83.40000000000003" height="3.4" fill="#fff"/>
<line x1="393.4" y1="403.1" x2="476.8" y2="403.1" stroke="#222" stroke-width="0.9"/>
<line x1="393.4" y1="406.6" x2="476.8" y2="406.6" stroke="#222" stroke-width="0.9"/>
<line x1="393.9" y1="351" x2="393.9" y2="461" stroke="#222" stroke-width="1.1"/>
<line x1="476.3" y1="351" x2="476.3" y2="461" stroke="#222" stroke-width="1.1"/>
<rect x="144.3" y="344.6" width="18.4" height="116.4" fill="url(#post)"/>
<rect x="374.3" y="344.6" width="18.9" height="116.4" fill="url(#postM)"/>
<line x1="144.5" y1="344.6" x2="144.5" y2="461" stroke="#222" stroke-width="1"/>
<line x1="162.4" y1="344.6" x2="162.4" y2="461" stroke="#222" stroke-width="1"/>
<line x1="165.2" y1="344.6" x2="165.2" y2="461" stroke="#222" stroke-width="1"/>
<line x1="371.6" y1="344.6" x2="371.6" y2="461" stroke="#222" stroke-width="1"/>
<line x1="374.3" y1="344.6" x2="374.3" y2="461" stroke="#222" stroke-width="1"/>
<line x1="393.1" y1="344.6" x2="393.1" y2="461" stroke="#222" stroke-width="1"/>
<rect x="162.9" y="344.6" width="1.8" height="116.4" fill="#e4e4e4"/>
<rect x="372.1" y="344.6" width="1.7" height="116.4" fill="#e4e4e4"/>
<rect x="58.8" y="344.6" width="2.6000000000000014" height="116.4" fill="#9c9c9c"/>
<line x1="59.099999999999994" y1="344.6" x2="59.099999999999994" y2="461" stroke="#222" stroke-width="1"/>
<line x1="61.1" y1="344.6" x2="61.1" y2="461" stroke="#222" stroke-width="1"/>
<rect x="476.8" y="344.6" width="2.8000000000000114" height="116.4" fill="#9c9c9c"/>
<line x1="477.1" y1="344.6" x2="477.1" y2="461" stroke="#222" stroke-width="1"/>
<line x1="479.3" y1="344.6" x2="479.3" y2="461" stroke="#222" stroke-width="1"/>
<rect x="27" y="344.8" width="483.2" height="116.5" fill="none" stroke="#1a1a1a" stroke-width="1.3"/>
<rect x="49.5" y="461.4" width="112.0" height="16" fill="url(#footB)" stroke="#222" stroke-width="0.9"/>
<line x1="49.5" y1="462.3" x2="161.5" y2="462.3" stroke="#555" stroke-width="1.2"/>
<circle cx="120.3" cy="465.2" r="1.2" fill="#111"/>
<rect x="375.4" y="461.4" width="112.10000000000002" height="16" fill="url(#footB)" stroke="#222" stroke-width="0.9"/>
<line x1="375.4" y1="462.3" x2="487.5" y2="462.3" stroke="#555" stroke-width="1.2"/>
<circle cx="416.5" cy="465.2" r="1.2" fill="#111"/>
<line x1="167.8" y1="440.5" x2="370" y2="440.5" stroke="#222" stroke-width="1"/>
<line x1="458.5" y1="353.2" x2="458.5" y2="399.3" stroke="#222" stroke-width="1"/>
<line x1="458.5" y1="409" x2="458.5" y2="455.5" stroke="#222" stroke-width="1"/>
<circle cx="475.7" cy="348" r="10.1" fill="none" stroke="#222" stroke-width="1.2"/>
<line x1="485.6" y1="348.3" x2="658.3" y2="425.4" stroke="#222" stroke-width="1.2"/>
<line x1="572.5" y1="341.9" x2="572.5" y2="460.9" stroke="#222" stroke-width="1.1"/>
<line x1="514.5" y1="463.2" x2="514.5" y2="479.2" stroke="#222" stroke-width="1.1"/>
<g clip-path="url(#circClip)">
<rect x="640" y="378" width="206" height="204" fill="#fff"/>
<g filter="url(#blur2)">
<path d="M652.6,436.8 L654.0,436.0 L655.9,435.0 L658.0,433.8 L660.4,432.5 L662.9,431.2 L665.6,429.8 L668.2,428.4 L670.8,427.1 L673.5,425.7 L676.1,424.2 L678.7,422.7 L681.2,421.2 L683.9,419.8 L686.8,418.5 L690.1,417.3 L693.8,416.3 L698.2,415.3 L703.5,414.3 L709.3,413.5 L715.4,412.7 L721.7,411.9 L727.8,411.2 L733.6,410.6 L738.7,410.0 L743.3,409.4 L747.5,408.9 L751.6,408.5 L755.4,408.1 L759.2,407.7 L763.0,407.3 L766.7,406.9 L770.6,406.5 L774.5,405.9 L778.4,405.1 L782.1,404.3 L785.6,403.5 L788.8,402.8 L791.7,402.4 L794.2,402.3 L796.3,402.5 L798.1,402.9 L799.8,403.7 L801.4,404.6 L802.9,405.8 L804.5,407.2 L806.2,408.7 L808.0,410.4 L809.8,411.9 L811.6,413.5 L813.4,415.3 L815.4,417.3 L817.3,419.3 L819.2,421.3 L820.9,423.2 L822.4,424.8 L823.5,426.0 L832.5,418.0 L831.5,416.8 L830.2,415.2 L828.6,413.2 L826.8,411.0 L824.8,408.6 L822.7,406.2 L820.4,404.0 L818.2,402.1 L816.2,400.5 L814.2,398.9 L812.1,397.4 L809.7,395.8 L807.1,394.4 L804.3,393.1 L801.1,392.2 L797.7,391.5 L794.1,391.4 L790.5,391.7 L786.9,392.3 L783.3,393.0 L779.8,393.8 L776.3,394.5 L772.8,395.1 L769.4,395.5 L765.9,395.7 L762.4,395.7 L758.7,395.6 L754.9,395.5 L750.9,395.5 L746.7,395.5 L742.1,395.7 L737.3,396.0 L732.0,396.6 L726.2,397.3 L719.9,398.0 L713.6,398.9 L707.2,399.9 L701.1,401.1 L695.4,402.3 L690.2,403.7 L685.7,405.3 L681.7,407.1 L678.1,409.0 L675.0,411.0 L672.2,413.1 L669.7,415.0 L667.5,417.0 L665.2,418.9 L662.8,421.0 L660.6,423.3 L658.5,425.7 L656.6,428.1 L654.9,430.3 L653.5,432.3 L652.3,434.0 L651.4,435.2Z" fill="#e3e3e3" />
<path d="M700.1,412.5 L702.8,412.4 L706.5,412.2 L710.9,412.0 L715.8,411.7 L720.9,411.4 L726.0,411.1 L730.9,410.8 L735.2,410.5 L739.4,410.1 L743.7,409.6 L748.1,409.1 L752.3,408.6 L756.3,408.1 L759.8,407.7 L762.8,407.3 L765.1,407.0 L764.9,405.0 L762.7,405.0 L759.6,405.0 L756.1,404.9 L752.1,404.9 L747.8,404.9 L743.4,405.0 L739.0,405.2 L734.8,405.5 L730.4,406.0 L725.5,406.8 L720.5,407.6 L715.4,408.5 L710.6,409.5 L706.3,410.3 L702.7,411.0 L699.9,411.5Z" fill="#ececec" />
<path d="M772.0,402.5 L773.5,402.8 L775.5,403.2 L777.9,403.6 L780.5,404.1 L783.3,404.7 L786.1,405.2 L788.9,405.8 L791.5,406.4 L794.2,407.1 L797.2,407.9 L800.4,408.8 L803.6,409.6 L806.6,410.5 L809.4,411.3 L811.8,411.9 L813.5,412.4 L814.5,409.6 L812.8,408.9 L810.6,408.0 L807.9,406.8 L804.9,405.6 L801.8,404.4 L798.6,403.2 L795.5,402.3 L792.5,401.6 L789.6,401.1 L786.7,401.0 L783.6,400.9 L780.7,401.0 L778.0,401.2 L775.6,401.3 L773.6,401.4 L772.0,401.5Z" fill="#cfcfcf" />
</g>
<path d="M640,514.6 L698.3,502 L698.3,582 L640,582 Z" fill="#8d8d8d"/>
<path d="M698.3,502 L758.3,489 L758.3,582 L698.3,582 Z" fill="#a8a8a8"/>
<line x1="698.3" y1="502" x2="698.3" y2="582" stroke="#333" stroke-width="0.9"/>
<path d="M640,466.3 L846,409.4 L846,418.5 L640,477.5 Z" fill="#e9e9e9"/>
<line x1="640" y1="466.3" x2="846" y2="409.4" stroke="#222" stroke-width="1"/>
<line x1="640" y1="477.9" x2="846" y2="421.5" stroke="#111" stroke-width="2.3"/>
<line x1="640" y1="481.6" x2="846" y2="426.8" stroke="#222" stroke-width="0.9"/>
<line x1="640" y1="514.6" x2="758.3" y2="489" stroke="#222" stroke-width="1.1"/>
<g fill="none" stroke="#222" stroke-width="1.1" stroke-dasharray="3.2,2.4">
<path d="M720.8,423.7 L760.4,413.8 L800,432.5 M760.4,413.8 L760.4,420.2 M720.8,423.7 L720.8,432 L758,444.5 M721.5,428.3 L760.4,420.2 L797,436.5 M723,428.8 L746,439.5"/>
</g>
<path d="M759.2,463 L774.4,434.4 L777,428.6 L785.5,430.5 L787.8,437.9 L846,461 L846,505.5 Z" fill="#fff"/>
<path d="M759.2,463 L774.4,434.4 L777,428.6 L785.5,430.5 L787.8,437.9" stroke="#222" stroke-width="0.9" fill="none"/>
<path d="M758.8,464.5 L846,506" stroke="#222" stroke-width="1.1" fill="none"/>
<path d="M787.8,437.9 L846,461" stroke="#222" stroke-width="1" fill="none"/>
<path d="M786.6,441 L846,467.7" stroke="#222" stroke-width="1" fill="none"/>
<path d="M800.4,435 L827.8,429.3" stroke="#999" stroke-width="2.5" fill="none"/>
<path d="M758.3,489 L758.3,582 L846,582 L846,506 L758.8,464.5 Z" fill="#fff"/>
<line x1="758.3" y1="489" x2="758.3" y2="582" stroke="#222" stroke-width="1"/>
<path d="M680,495 L727,480.5 L727,472.5 L678,484 Q671,486 672.5,491 Q674.5,496.5 680,495 Z" fill="#bcbcbc" stroke="#222" stroke-width="1"/>
<circle cx="682.9" cy="488.3" r="5.2" fill="#e4e4e4" stroke="#111" stroke-width="1.6"/>
<path d="M680.6,489.1 L685.1999999999999,487.5 M682.1,486.0 L683.6999999999999,490.6" stroke="#222" stroke-width="1.1"/>
<circle cx="706.7" cy="482" r="5.2" fill="#e4e4e4" stroke="#111" stroke-width="1.6"/>
<path d="M704.4000000000001,482.8 L709.0,481.2 M705.9000000000001,479.7 L707.5,484.3" stroke="#222" stroke-width="1.1"/>
<circle cx="722.1" cy="478.5" r="5.2" fill="#e4e4e4" stroke="#111" stroke-width="1.6"/>
<path d="M719.8000000000001,479.3 L724.4,477.7 M721.3000000000001,476.2 L722.9,480.8" stroke="#222" stroke-width="1.1"/>
<rect x="713.4" y="476" width="2.2" height="8" fill="#fff" stroke="#222" stroke-width="0.8"/>
<path d="M766,472.5 L819,498.5 Q825,501.5 823.5,508 Q821.5,515.5 815,513 L765,489 Q760,486 761,479 Q762.5,471 766,472.5 Z" fill="#c9c9c9" stroke="#222" stroke-width="1.2"/>
<path d="M778,488.5 L810.5,503.5 L809,508 L776.5,493 Z" fill="#7a7a7a"/>
<path d="M775,493.5 L811,510" stroke="#eee" stroke-width="1.6"/>
<path d="M764.5,474 L768,475.5 L768,486 L764.5,485 Z" fill="#333"/>
<circle cx="817.2" cy="507.5" r="4.6" fill="#e4e4e4" stroke="#111" stroke-width="1.4"/>
<path d="M815,508.3 L819.4,506.7 M816.4,505.3 L818,509.7" stroke="#222" stroke-width="1"/>
<path d="M763.5,491 L776.3,491 L776.3,518 Q776.3,523 770,523 Q763.5,523 763.5,518 Z" fill="#c6c6c6" stroke="#222" stroke-width="1.2"/>
<circle cx="769.9" cy="497.6" r="4.6" fill="#e4e4e4" stroke="#111" stroke-width="1.4"/>
<path d="M767.7,498.40000000000003 L772.1,496.8 M769.1,495.40000000000003 L770.7,499.8" stroke="#222" stroke-width="1"/>
<circle cx="769.9" cy="513.3" r="4.6" fill="#e4e4e4" stroke="#111" stroke-width="1.4"/>
<path d="M767.7,514.0999999999999 L772.1,512.5 M769.1,511.09999999999997 L770.7,515.5" stroke="#222" stroke-width="1"/>
<path d="M742,470 L752,463 L768,462 L772,468 L760,471 L750,474 Z" fill="#cfcfcf" stroke="#222" stroke-width="0.9"/>
<path d="M731,484 L734,478.5 L744,477.5 L746,470 L751,467 L764,470.5 L770,475.5 L765,478.5 L754,476 L752,479.5 L780,482 L790,486 L788.5,490.5 L742,489.5 L733,487.5 Z" fill="#dcdcdc" stroke="#222" stroke-width="1"/>
<path d="M737,485 L786,488.3 M752,479.5 L754,476" fill="none" stroke="#444" stroke-width="0.8"/>
<ellipse cx="738.6" cy="473.2" rx="3.4" ry="2.6" fill="#c4c4c4" stroke="#222" stroke-width="1"/>
<circle cx="738.6" cy="473.2" r="1" fill="#333"/>
</g>
<circle cx="743" cy="479" r="99" fill="none" stroke="#1a1a1a" stroke-width="1.4"/>
<path d="M36.5,538.5 L502.5,538.5 Q510.5,538.5 510,546.5 L494,639 Q492.5,645 486,644.3 L391,628.6 Q383.5,627.3 381.5,633 L379.8,638.5 Q378.3,643 374,643 L164,643 Q160,643 158.5,638.5 L156.5,632.5 Q154.5,627 148.5,628 L50.5,644.2 Q44.5,645.2 43.5,639.5 L28.5,546.5 Q27.5,538.5 36.5,538.5 Z" fill="#fff"/>
<clipPath id="p3clip"><path d="M36.5,538.5 L502.5,538.5 Q510.5,538.5 510,546.5 L494,639 Q492.5,645 486,644.3 L391,628.6 Q383.5,627.3 381.5,633 L379.8,638.5 Q378.3,643 374,643 L164,643 Q160,643 158.5,638.5 L156.5,632.5 Q154.5,627 148.5,628 L50.5,644.2 Q44.5,645.2 43.5,639.5 L28.5,546.5 Q27.5,538.5 36.5,538.5 Z"/></clipPath>
<g clip-path="url(#p3clip)"><g filter="url(#blur2)">
<path d="M23.1,599.0 L25.9,598.9 L29.5,598.9 L33.8,598.8 L38.7,598.7 L43.8,598.6 L49.1,598.5 L54.3,598.3 L59.3,598.0 L64.3,597.6 L69.4,597.1 L74.7,596.5 L79.9,595.9 L85.1,595.3 L90.2,594.7 L95.0,594.3 L99.5,594.0 L103.7,593.8 L107.7,593.7 L111.4,593.6 L115.1,593.6 L118.6,593.7 L122.2,593.9 L125.8,594.1 L129.5,594.5 L133.3,595.0 L137.3,595.6 L141.2,596.4 L145.1,597.2 L148.9,598.0 L152.5,598.9 L155.8,599.7 L158.7,600.4 L160.9,600.9 L162.2,601.4 L163.3,601.8 L164.6,602.3 L166.3,602.9 L168.7,603.7 L171.7,604.5 L175.7,605.4 L180.8,606.4 L186.9,607.7 L193.8,609.1 L201.2,610.5 L208.7,611.9 L216.0,613.3 L222.9,614.5 L229.0,615.4 L234.3,616.2 L239.1,616.8 L243.7,617.3 L248.0,617.7 L252.1,618.0 L256.3,618.3 L260.5,618.4 L264.9,618.5 L269.4,618.5 L273.9,618.4 L278.3,618.3 L282.8,618.0 L287.2,617.7 L291.7,617.4 L296.2,616.9 L300.8,616.5 L305.5,615.9 L310.3,615.3 L315.0,614.6 L319.8,613.8 L324.6,613.0 L329.5,612.2 L334.3,611.3 L339.3,610.4 L344.4,609.4 L349.6,608.4 L354.8,607.3 L360.2,606.2 L365.5,605.1 L370.9,603.9 L376.2,602.6 L381.4,601.3 L386.6,599.9 L391.6,598.4 L396.4,596.8 L401.1,595.1 L405.8,593.6 L410.6,592.2 L415.5,591.0 L420.7,590.0 L426.3,589.2 L432.3,588.5 L438.6,588.0 L445.0,587.7 L451.5,587.4 L457.9,587.2 L464.1,587.1 L470.0,587.0 L475.8,587.0 L481.9,587.1 L488.0,587.3 L493.9,587.6 L499.4,587.8 L504.4,588.1 L508.6,588.3 L511.8,588.5 L512.2,581.5 L509.0,581.3 L504.9,581.0 L499.9,580.6 L494.3,580.2 L488.4,579.8 L482.2,579.4 L476.0,579.2 L470.0,579.0 L464.1,578.9 L457.8,578.8 L451.3,578.8 L444.7,578.8 L438.2,578.9 L431.7,579.2 L425.4,579.5 L419.3,580.0 L413.6,580.8 L408.1,581.8 L402.9,582.9 L397.9,584.1 L393.0,585.3 L388.2,586.5 L383.5,587.7 L378.6,588.7 L373.5,589.6 L368.2,590.5 L362.9,591.4 L357.6,592.3 L352.2,593.1 L347.0,594.0 L341.8,594.8 L336.7,595.6 L331.7,596.4 L326.8,597.3 L322.0,598.1 L317.3,598.9 L312.7,599.7 L308.1,600.4 L303.6,601.0 L299.2,601.5 L294.7,602.0 L290.4,602.4 L286.1,602.8 L281.9,603.1 L277.7,603.3 L273.5,603.4 L269.3,603.5 L265.1,603.5 L261.0,603.4 L257.0,603.2 L253.2,603.0 L249.3,602.7 L245.2,602.3 L240.9,601.8 L236.2,601.2 L231.0,600.6 L225.1,599.8 L218.3,598.9 L211.0,597.8 L203.6,596.7 L196.2,595.6 L189.3,594.5 L183.3,593.5 L178.3,592.6 L174.8,591.9 L172.4,591.2 L170.8,590.7 L169.6,590.1 L168.2,589.5 L166.4,588.8 L164.1,588.2 L161.3,587.6 L157.9,587.2 L154.3,586.9 L150.5,586.7 L146.5,586.6 L142.4,586.4 L138.4,586.2 L134.4,585.9 L130.5,585.5 L126.8,585.0 L123.3,584.5 L119.7,583.8 L116.2,583.2 L112.5,582.4 L108.7,581.7 L104.7,580.9 L100.5,580.0 L95.9,579.1 L91.1,578.1 L86.0,577.1 L80.8,576.0 L75.6,574.9 L70.5,573.9 L65.5,572.9 L60.7,572.0 L55.8,571.2 L50.6,570.4 L45.4,569.7 L40.3,569.0 L35.5,568.4 L31.3,567.9 L27.6,567.4 L24.9,567.0Z" fill="#e5e5e5" />
<path d="M25.9,592.0 L28.4,592.0 L31.9,591.9 L35.9,591.9 L40.5,591.9 L45.3,591.8 L50.3,591.7 L55.2,591.6 L59.9,591.5 L64.7,591.3 L70.0,591.1 L75.6,590.8 L81.1,590.5 L86.3,590.2 L91.1,589.9 L95.0,589.7 L98.0,589.5 L98.0,588.5 L95.1,588.2 L91.1,587.7 L86.4,587.2 L81.2,586.7 L75.7,586.1 L70.2,585.5 L64.9,585.0 L60.1,584.5 L55.4,584.1 L50.5,583.7 L45.6,583.3 L40.8,583.0 L36.2,582.7 L32.2,582.4 L28.7,582.2 L26.1,582.0Z" fill="#d3d3d3" />
<path d="M119.2,543.4 L121.6,544.0 L124.9,544.8 L128.8,545.7 L133.1,546.7 L137.5,547.7 L141.7,548.8 L145.3,549.8 L148.3,550.8 L150.6,551.6 L152.6,552.3 L154.1,552.9 L155.3,553.4 L156.4,554.1 L157.7,554.9 L159.3,556.1 L161.0,557.4 L162.6,559.1 L164.2,561.2 L166.0,564.0 L168.1,567.1 L170.7,570.5 L173.8,573.9 L177.6,577.2 L182.2,579.9 L187.5,582.0 L193.3,583.7 L199.5,585.1 L205.9,586.4 L212.3,587.4 L218.5,588.4 L224.1,589.2 L229.0,589.9 L233.1,590.6 L236.8,591.1 L240.0,591.4 L243.1,591.7 L246.2,591.9 L249.4,592.0 L252.9,592.0 L257.0,592.0 L261.6,592.0 L266.5,592.0 L271.6,591.9 L277.1,591.7 L282.7,591.5 L288.6,591.1 L294.6,590.6 L300.8,590.0 L307.3,589.1 L314.4,588.0 L321.8,586.8 L329.2,585.5 L336.5,584.1 L343.4,582.8 L349.8,581.5 L355.3,580.4 L360.0,579.3 L364.0,578.3 L367.5,577.4 L370.6,576.5 L373.4,575.6 L376.1,574.7 L378.7,573.7 L381.6,572.8 L384.9,571.7 L388.4,570.4 L392.0,569.1 L395.5,567.8 L398.8,566.6 L401.7,565.5 L404.2,564.5 L406.1,563.9 L403.9,556.1 L401.9,556.5 L399.3,557.0 L396.2,557.6 L392.8,558.3 L389.1,559.0 L385.4,559.7 L381.8,560.5 L378.4,561.2 L375.3,562.0 L372.4,562.7 L369.7,563.5 L367.0,564.3 L364.2,565.1 L360.9,565.9 L357.2,566.7 L352.7,567.6 L347.3,568.6 L341.0,569.7 L334.1,570.9 L326.9,572.1 L319.6,573.3 L312.4,574.4 L305.5,575.3 L299.2,576.0 L293.4,576.6 L287.6,577.1 L282.0,577.4 L276.5,577.7 L271.3,577.8 L266.3,577.9 L261.5,578.0 L257.0,578.0 L253.0,578.0 L249.7,577.9 L246.8,577.8 L244.1,577.7 L241.4,577.4 L238.5,577.1 L235.1,576.7 L231.0,576.1 L226.0,575.4 L220.4,574.7 L214.4,573.9 L208.2,573.0 L202.2,572.0 L196.5,570.8 L191.6,569.5 L187.8,568.1 L184.9,566.6 L182.5,564.6 L180.2,562.3 L178.1,559.7 L176.1,556.9 L174.0,554.0 L171.6,551.1 L169.0,548.6 L166.7,546.7 L164.8,545.2 L162.9,543.9 L161.0,542.7 L158.9,541.7 L156.8,540.8 L154.5,540.1 L151.7,539.2 L148.2,538.4 L144.1,537.7 L139.6,537.0 L135.0,536.3 L130.6,535.8 L126.6,535.3 L123.2,534.9 L120.8,534.6Z" fill="#e5e5e5" />
<path d="M161.8,549.3 L163.9,550.1 L166.6,551.3 L169.9,552.7 L173.5,554.2 L177.4,555.7 L181.2,557.3 L184.9,558.8 L188.3,560.2 L191.7,561.5 L195.3,562.9 L199.0,564.2 L202.6,565.6 L206.1,566.9 L209.2,568.0 L211.8,569.0 L213.8,569.7 L216.2,564.3 L214.4,563.3 L211.9,562.0 L209.0,560.4 L205.7,558.6 L202.3,556.8 L198.7,555.0 L195.1,553.3 L191.7,551.8 L188.2,550.4 L184.3,549.1 L180.3,547.7 L176.3,546.5 L172.6,545.3 L169.2,544.3 L166.3,543.4 L164.2,542.7Z" fill="#e5e5e5" />
<path d="M294.6,540.0 L298.1,540.6 L302.8,541.4 L308.3,542.3 L314.5,543.3 L321.0,544.4 L327.5,545.5 L333.7,546.5 L339.4,547.5 L344.5,548.3 L349.5,549.1 L354.4,550.0 L359.2,550.8 L364.1,551.6 L369.1,552.3 L374.3,552.9 L379.6,553.5 L385.1,553.9 L390.6,554.1 L396.2,554.3 L401.9,554.4 L407.6,554.5 L413.3,554.6 L419.0,554.7 L424.7,555.0 L430.6,555.4 L436.6,555.8 L442.8,556.4 L449.0,557.0 L455.2,557.5 L461.3,558.0 L467.2,558.3 L472.9,558.5 L478.6,558.5 L484.4,558.3 L490.2,558.1 L495.7,557.7 L500.9,557.3 L505.5,557.0 L509.3,556.7 L512.2,556.5 L511.8,549.5 L508.8,549.7 L504.9,550.0 L500.4,550.4 L495.3,550.8 L489.8,551.1 L484.2,551.4 L478.5,551.5 L473.1,551.5 L467.6,551.2 L461.8,550.8 L455.9,550.2 L449.7,549.5 L443.6,548.8 L437.4,548.2 L431.2,547.5 L425.3,547.0 L419.4,546.6 L413.6,546.3 L407.8,546.1 L402.1,545.8 L396.5,545.6 L391.0,545.3 L385.7,545.0 L380.4,544.5 L375.3,543.9 L370.4,543.3 L365.6,542.5 L360.8,541.7 L355.9,540.9 L351.0,540.0 L345.9,539.3 L340.6,538.5 L334.9,537.9 L328.6,537.2 L322.0,536.5 L315.5,535.9 L309.3,535.3 L303.6,534.8 L298.9,534.4 L295.4,534.0Z" fill="#e5e5e5" />
<path d="M173.6,554.3 L173.3,555.5 L173.0,557.0 L172.6,558.8 L172.2,560.9 L171.8,563.0 L171.3,565.2 L170.9,567.3 L170.6,569.3 L170.3,571.2 L170.0,573.1 L169.7,575.1 L169.4,577.0 L169.1,578.9 L168.9,580.8 L168.7,582.7 L168.5,584.6 L168.4,586.4 L168.4,588.4 L168.4,590.3 L168.4,592.2 L168.4,594.0 L168.5,595.6 L168.5,596.9 L168.5,597.9 L169.5,598.1 L169.8,597.1 L170.2,595.8 L170.7,594.3 L171.2,592.6 L171.8,590.9 L172.4,589.0 L172.9,587.2 L173.5,585.4 L174.0,583.7 L174.5,581.9 L175.0,580.1 L175.5,578.3 L176.0,576.4 L176.5,574.5 L177.0,572.6 L177.4,570.7 L177.9,568.7 L178.3,566.6 L178.8,564.4 L179.2,562.3 L179.6,560.2 L179.9,558.4 L180.2,556.8 L180.4,555.7Z" fill="#d3d3d3" />
<path d="M172.5,571.5 L173.8,571.7 L175.5,572.0 L177.5,572.3 L179.7,572.7 L182.1,573.1 L184.6,573.4 L187.2,573.7 L189.7,574.0 L192.5,574.2 L195.5,574.3 L198.7,574.4 L202.0,574.4 L205.1,574.4 L207.9,574.5 L210.2,574.5 L212.0,574.5 L212.0,573.5 L210.3,573.2 L208.0,572.9 L205.2,572.4 L202.2,572.0 L199.0,571.5 L195.8,571.0 L192.9,570.5 L190.3,570.0 L187.8,569.6 L185.4,569.1 L182.9,568.6 L180.6,568.1 L178.4,567.6 L176.4,567.2 L174.7,566.8 L173.5,566.5Z" fill="#d3d3d3" />
<path d="M262.1,614.5 L264.2,614.5 L266.8,614.6 L270.0,614.6 L273.7,614.7 L277.6,614.7 L281.8,614.5 L286.2,614.1 L290.6,613.4 L295.5,612.4 L301.2,611.0 L307.2,609.4 L313.3,607.6 L319.1,605.9 L324.5,604.3 L328.9,602.9 L332.2,602.0 L331.8,600.0 L328.4,600.5 L323.8,601.2 L318.3,602.0 L312.2,602.9 L306.0,603.8 L299.8,604.8 L294.2,605.7 L289.4,606.6 L285.1,607.4 L280.9,608.4 L276.9,609.4 L273.1,610.4 L269.6,611.4 L266.6,612.2 L264.0,613.0 L261.9,613.5Z" fill="#d3d3d3" />
<path d="M261.6,628.0 L263.7,628.5 L266.6,629.3 L269.9,630.3 L273.7,631.3 L277.6,632.4 L281.7,633.4 L285.6,634.5 L289.2,635.4 L292.9,636.3 L296.8,637.2 L300.9,638.2 L304.9,639.1 L308.7,640.0 L312.2,640.8 L315.1,641.4 L317.3,641.9 L318.7,636.1 L316.6,635.5 L313.7,634.7 L310.4,633.7 L306.6,632.6 L302.6,631.5 L298.5,630.4 L294.5,629.4 L290.8,628.6 L287.0,627.8 L283.0,627.1 L278.9,626.5 L274.8,625.8 L271.0,625.3 L267.5,624.8 L264.6,624.4 L262.4,624.0Z" fill="#e5e5e5" />
<path d="M37.6,626.0 L40.1,626.4 L43.5,626.9 L47.5,627.5 L51.9,628.2 L56.6,628.9 L61.2,629.5 L65.6,630.1 L69.6,630.5 L73.3,630.7 L77.2,630.9 L81.0,631.0 L84.7,631.0 L88.2,631.0 L91.3,631.0 L93.9,631.0 L95.9,631.0 L96.1,629.0 L94.2,628.6 L91.6,628.0 L88.6,627.3 L85.3,626.5 L81.6,625.7 L77.9,624.9 L74.1,624.2 L70.4,623.5 L66.5,623.0 L62.1,622.4 L57.5,621.9 L52.8,621.4 L48.3,621.0 L44.3,620.6 L40.9,620.3 L38.4,620.0Z" fill="#e5e5e5" />
<path d="M375.2,587.2 L375.7,588.3 L376.3,589.7 L377.0,591.4 L377.8,593.3 L378.7,595.3 L379.5,597.3 L380.4,599.3 L381.2,601.1 L382.1,603.0 L383.0,605.1 L384.0,607.2 L385.1,609.3 L386.0,611.3 L386.9,613.1 L387.6,614.6 L388.1,615.7 L391.9,614.3 L391.5,613.1 L391.0,611.5 L390.4,609.6 L389.7,607.5 L389.0,605.2 L388.2,603.0 L387.5,600.8 L386.8,598.9 L386.0,596.9 L385.2,594.9 L384.3,592.8 L383.4,590.8 L382.6,589.0 L381.9,587.3 L381.2,585.9 L380.8,584.8Z" fill="#e5e5e5" />
<path d="M418.0,581.5 L420.4,581.8 L423.6,582.1 L427.5,582.6 L431.8,583.1 L436.3,583.5 L441.0,584.0 L445.6,584.3 L449.9,584.5 L454.4,584.6 L459.3,584.5 L464.4,584.4 L469.5,584.2 L474.3,584.0 L478.6,583.8 L482.3,583.6 L485.0,583.5 L485.0,582.5 L482.3,582.2 L478.7,581.9 L474.3,581.4 L469.5,580.9 L464.5,580.5 L459.4,580.0 L454.5,579.7 L450.1,579.5 L445.7,579.4 L441.1,579.5 L436.4,579.6 L431.9,579.8 L427.6,580.0 L423.7,580.2 L420.5,580.4 L418.0,580.5Z" fill="#d3d3d3" />
<path d="M435.9,550.5 L437.8,550.9 L440.2,551.4 L443.0,552.1 L446.3,552.8 L449.7,553.5 L453.2,554.1 L456.6,554.6 L459.8,555.0 L463.1,555.2 L466.7,555.2 L470.3,555.2 L474.0,555.0 L477.4,554.9 L480.5,554.7 L483.0,554.6 L485.0,554.5 L485.0,553.5 L483.1,553.3 L480.5,553.0 L477.4,552.7 L474.0,552.3 L470.5,552.0 L466.9,551.6 L463.4,551.3 L460.2,551.0 L457.0,550.8 L453.6,550.5 L450.1,550.3 L446.6,550.1 L443.3,549.9 L440.4,549.8 L437.9,549.6 L436.1,549.5Z" fill="#d3d3d3" />
<path d="M350.3,627.5 L353.0,627.1 L356.8,626.7 L361.4,626.1 L366.3,625.5 L371.2,624.9 L375.8,624.3 L379.6,623.8 L382.3,623.5 L381.7,618.5 L379.0,618.9 L375.2,619.3 L370.6,619.9 L365.7,620.5 L360.8,621.1 L356.2,621.7 L352.4,622.2 L349.7,622.5Z" fill="#e5e5e5" />
</g></g>
<path d="M36.5,538.5 L502.5,538.5 Q510.5,538.5 510,546.5 L494,639 Q492.5,645 486,644.3 L391,628.6 Q383.5,627.3 381.5,633 L379.8,638.5 Q378.3,643 374,643 L164,643 Q160,643 158.5,638.5 L156.5,632.5 Q154.5,627 148.5,628 L50.5,644.2 Q44.5,645.2 43.5,639.5 L28.5,546.5 Q27.5,538.5 36.5,538.5 Z" fill="none" stroke="#222" stroke-width="1.3"/>
<g fill="none" stroke="#222" stroke-width="1.2" stroke-dasharray="3.2,2.2">
<path d="M42,544 L144.7,544 L144.7,622.4 L58,637.4 Z"/>
<path d="M165.2,544 L372.1,544 L372.1,637.9 L165.2,637.9 Z"/>
<path d="M393.1,544 L495.6,544 L479.4,637 L393.1,622.4 Z"/>
</g>
<g stroke="#111" stroke-width="1.1">
<line x1="43.9" y1="559.5" x2="141.9" y2="559.5"/>
<line x1="127.5" y1="546.8" x2="127.5" y2="621.5"/>
<line x1="168" y1="562.5" x2="370.3" y2="562.5"/>
<line x1="354.5" y1="546.8" x2="354.5" y2="633.6"/>
<line x1="395.5" y1="559.5" x2="493.4" y2="559.5"/>
<line x1="409.5" y1="546.8" x2="409.5" y2="621.5"/>
<line x1="7.5" y1="545.9" x2="24.3" y2="643"/>
<line x1="529.8" y1="546.5" x2="513" y2="643.6"/>
</g>
<g class="lbl" transform="translate(110.37,88.29) rotate(0)"><text x="-8.96" y="5.11" font-size="14.61" textLength="17.92" lengthAdjust="spacingAndGlyphs">240</text></g>
<g class="lbl" transform="translate(110.50,105.47) rotate(0)"><text x="-13.00" y="5.42" font-size="15.47" textLength="10.10" lengthAdjust="spacingAndGlyphs">94</text><text x="0.62" y="5.42" font-size="9.90" textLength="12.38" lengthAdjust="spacingAndGlyphs">1/2</text></g>
<g class="lbl" transform="translate(204.03,53.00) rotate(-90)"><text x="-4.86" y="4.13" font-size="11.79" textLength="9.71" lengthAdjust="spacingAndGlyphs">68</text></g>
<g class="lbl" transform="translate(223.00,53.02) rotate(-90)"><text x="-12.57" y="3.96" font-size="11.32" textLength="9.77" lengthAdjust="spacingAndGlyphs">26</text><text x="0.60" y="3.96" font-size="7.25" textLength="11.97" lengthAdjust="spacingAndGlyphs">3/4</text></g>
<g class="lbl" transform="translate(254.29,87.92) rotate(0)"><text x="-6.27" y="4.50" font-size="12.86" textLength="12.54" lengthAdjust="spacingAndGlyphs">53</text></g>
<g class="lbl" transform="translate(253.84,105.92) rotate(0)"><text x="-12.40" y="4.50" font-size="12.86" textLength="9.63" lengthAdjust="spacingAndGlyphs">20</text><text x="0.59" y="4.50" font-size="8.23" textLength="11.81" lengthAdjust="spacingAndGlyphs">7/8</text></g>
<g class="lbl" transform="translate(204.21,137.79) rotate(-90)"><text x="-5.78" y="5.42" font-size="15.49" textLength="11.55" lengthAdjust="spacingAndGlyphs">53</text></g>
<g class="lbl" transform="translate(224.26,136.63) rotate(-90)"><text x="-12.17" y="4.35" font-size="12.44" textLength="9.45" lengthAdjust="spacingAndGlyphs">20</text><text x="0.58" y="4.35" font-size="7.96" textLength="11.59" lengthAdjust="spacingAndGlyphs">7/8</text></g>
<g class="lbl" transform="translate(265.71,429.39) rotate(0)"><text x="-12.90" y="4.61" font-size="13.17" textLength="25.80" lengthAdjust="spacingAndGlyphs">101,5</text></g>
<g class="lbl" transform="translate(265.71,448.65) rotate(0)"><text x="-12.90" y="4.67" font-size="13.34" textLength="10.02" lengthAdjust="spacingAndGlyphs">39</text><text x="0.61" y="4.67" font-size="8.54" textLength="12.28" lengthAdjust="spacingAndGlyphs">7/8</text></g>
<g class="lbl" transform="translate(448.21,376.90) rotate(-90)"><text x="-5.59" y="4.29" font-size="12.27" textLength="11.18" lengthAdjust="spacingAndGlyphs">24</text></g>
<g class="lbl" transform="translate(466.52,376.90) rotate(-90)"><text x="-9.75" y="5.72" font-size="16.35" textLength="4.70" lengthAdjust="spacingAndGlyphs">9</text><text x="-1.78" y="5.72" font-size="10.46" textLength="11.53" lengthAdjust="spacingAndGlyphs">3/8</text></g>
<g class="lbl" transform="translate(448.21,432.37) rotate(-90)"><text x="-6.18" y="4.29" font-size="12.27" textLength="12.35" lengthAdjust="spacingAndGlyphs">24</text></g>
<g class="lbl" transform="translate(466.52,431.00) rotate(-90)"><text x="-10.44" y="5.72" font-size="16.35" textLength="5.03" lengthAdjust="spacingAndGlyphs">9</text><text x="-1.90" y="5.72" font-size="10.46" textLength="12.34" lengthAdjust="spacingAndGlyphs">3/8</text></g>
<g class="lbl" transform="translate(562.81,397.40) rotate(-90)"><text x="-11.04" y="4.84" font-size="13.84" textLength="22.08" lengthAdjust="spacingAndGlyphs">59,5</text></g>
<g class="lbl" transform="translate(582.74,397.63) rotate(-90)"><text x="-12.97" y="5.05" font-size="14.42" textLength="10.08" lengthAdjust="spacingAndGlyphs">23</text><text x="0.62" y="5.05" font-size="9.23" textLength="12.35" lengthAdjust="spacingAndGlyphs">3/8</text></g>
<g class="lbl" transform="translate(529.87,462.62) rotate(0)"><text x="-7.70" y="4.09" font-size="11.70" textLength="15.40" lengthAdjust="spacingAndGlyphs">8,5</text></g>
<g class="lbl" transform="translate(529.98,477.77) rotate(0)"><text x="-9.25" y="5.08" font-size="14.50" textLength="4.46" lengthAdjust="spacingAndGlyphs">3</text><text x="-1.69" y="5.08" font-size="9.28" textLength="10.94" lengthAdjust="spacingAndGlyphs">3/8</text></g>
<g class="lbl" transform="translate(92.63,550.37) rotate(0)"><text x="-5.07" y="3.96" font-size="11.32" textLength="10.14" lengthAdjust="spacingAndGlyphs">50</text></g>
<g class="lbl" transform="translate(93.08,568.84) rotate(0)"><text x="-11.94" y="4.85" font-size="13.85" textLength="9.27" lengthAdjust="spacingAndGlyphs">19</text><text x="0.57" y="4.85" font-size="8.86" textLength="11.37" lengthAdjust="spacingAndGlyphs">5/8</text></g>
<g class="lbl" transform="translate(117.47,585.37) rotate(-90)"><text x="-6.05" y="5.42" font-size="15.47" textLength="12.10" lengthAdjust="spacingAndGlyphs">39</text></g>
<g class="lbl" transform="translate(136.53,584.60) rotate(-90)"><text x="-12.13" y="5.23" font-size="14.95" textLength="9.43" lengthAdjust="spacingAndGlyphs">15</text><text x="0.58" y="5.23" font-size="9.57" textLength="11.56" lengthAdjust="spacingAndGlyphs">3/8</text></g>
<g class="lbl" transform="translate(265.42,554.02) rotate(0)"><text x="-12.95" y="4.11" font-size="11.73" textLength="25.91" lengthAdjust="spacingAndGlyphs">101,5</text></g>
<g class="lbl" transform="translate(265.42,572.95) rotate(0)"><text x="-12.95" y="3.96" font-size="11.32" textLength="10.07" lengthAdjust="spacingAndGlyphs">39</text><text x="0.62" y="3.96" font-size="7.25" textLength="12.34" lengthAdjust="spacingAndGlyphs">7/8</text></g>
<g class="lbl" transform="translate(344.42,594.13) rotate(-90)"><text x="-5.57" y="5.42" font-size="15.47" textLength="11.14" lengthAdjust="spacingAndGlyphs">45</text></g>
<g class="lbl" transform="translate(361.95,593.82) rotate(-90)"><text x="-12.13" y="5.23" font-size="14.95" textLength="9.43" lengthAdjust="spacingAndGlyphs">17</text><text x="0.58" y="5.23" font-size="9.57" textLength="11.56" lengthAdjust="spacingAndGlyphs">3/4</text></g>
<g class="lbl" transform="translate(398.89,585.37) rotate(-90)"><text x="-6.05" y="5.42" font-size="15.47" textLength="12.10" lengthAdjust="spacingAndGlyphs">39</text></g>
<g class="lbl" transform="translate(419.21,584.60) rotate(-90)"><text x="-12.13" y="5.42" font-size="15.47" textLength="9.43" lengthAdjust="spacingAndGlyphs">15</text><text x="0.58" y="5.42" font-size="9.90" textLength="11.56" lengthAdjust="spacingAndGlyphs">3/8</text></g>
<g class="lbl" transform="translate(446.60,549.84) rotate(0)"><text x="-6.16" y="4.85" font-size="13.85" textLength="12.32" lengthAdjust="spacingAndGlyphs">50</text></g>
<g class="lbl" transform="translate(446.81,568.73) rotate(0)"><text x="-13.29" y="4.95" font-size="14.14" textLength="10.33" lengthAdjust="spacingAndGlyphs">19</text><text x="0.63" y="4.95" font-size="9.05" textLength="12.66" lengthAdjust="spacingAndGlyphs">5/8</text></g>
<g class="lbl" transform="translate(26.55,596.98) rotate(100)"><text x="-5.29" y="3.94" font-size="11.27" textLength="10.58" lengthAdjust="spacingAndGlyphs">46</text></g>
<g class="lbl" transform="translate(5.92,600.18) rotate(100)"><text x="-12.24" y="3.24" font-size="9.25" textLength="9.51" lengthAdjust="spacingAndGlyphs">18</text><text x="0.58" y="3.24" font-size="5.92" textLength="11.66" lengthAdjust="spacingAndGlyphs">1/8</text></g>
<g class="lbl" transform="translate(510.97,598.05) rotate(-80)"><text x="-5.30" y="5.11" font-size="14.61" textLength="10.59" lengthAdjust="spacingAndGlyphs">46</text></g>
<g class="lbl" transform="translate(530.21,601.15) rotate(-80)"><text x="-9.53" y="5.20" font-size="14.87" textLength="4.59" lengthAdjust="spacingAndGlyphs">8</text><text x="-1.73" y="5.20" font-size="9.52" textLength="11.26" lengthAdjust="spacingAndGlyphs">1/8</text></g>
<g class="lbl" transform="translate(45.97,195.00) rotate(0)"><text x="-10.69" y="4.49" font-size="12.83" textLength="21.37" lengthAdjust="spacingAndGlyphs">105°</text></g>
<g class="lbl" transform="translate(74.11,202.76) rotate(0)"><text x="-11.02" y="4.67" font-size="13.34" textLength="22.03" lengthAdjust="spacingAndGlyphs">105°</text></g>
</svg></body></html>
